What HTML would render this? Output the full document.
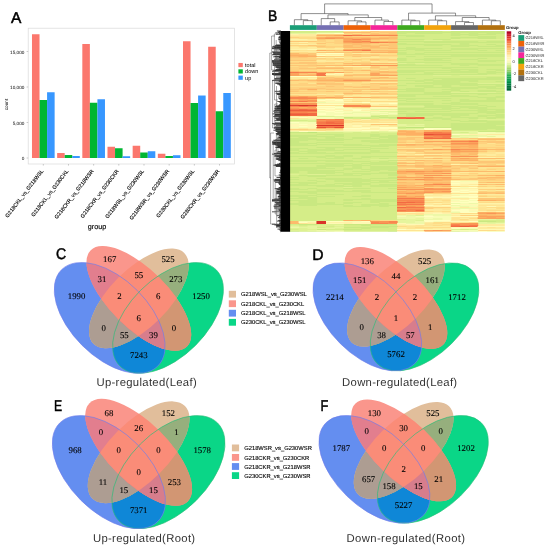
<!DOCTYPE html>
<html lang="en"><head><meta charset="utf-8"><title>Figure</title>
<style>html,body{margin:0;padding:0;background:#fff}svg{display:block}text{font-family:"Liberation Sans",sans-serif;text-rendering:geometricPrecision}.s{font-family:"Liberation Serif",serif}</style></head><body>
<svg width="548" height="550" viewBox="0 0 548 550">
<rect width="548" height="550" fill="#fff"/>
<g id="panelA">
<rect x="28.2" y="28.2" width="206.4" height="135.8" fill="#fff" stroke="#d9d9d9" stroke-width="0.7"/>
<rect x="31.98" y="34.25" width="7.55" height="123.75" fill="#FB776D"/>
<rect x="39.53" y="100.00" width="7.55" height="58.00" fill="#00B632"/>
<rect x="47.08" y="92.25" width="7.55" height="65.75" fill="#3797FF"/>
<line x1="43.30" y1="164.0" x2="43.30" y2="165.6" stroke="#999" stroke-width="0.5"/>
<text x="43.70" y="171.20" font-size="5.3" fill="#000" stroke="#000" stroke-width="0.1" text-anchor="end" transform="rotate(-52.5 43.70 171.20)">G218CKL_vs_G218WSL</text>
<rect x="57.15" y="153.03" width="7.55" height="4.97" fill="#FB776D"/>
<rect x="64.70" y="155.02" width="7.55" height="2.98" fill="#00B632"/>
<rect x="72.25" y="156.01" width="7.55" height="1.99" fill="#3797FF"/>
<line x1="68.47" y1="164.0" x2="68.47" y2="165.6" stroke="#999" stroke-width="0.5"/>
<text x="68.87" y="171.20" font-size="5.3" fill="#000" stroke="#000" stroke-width="0.1" text-anchor="end" transform="rotate(-52.5 68.87 171.20)">G218CKL_vs_G230CKL</text>
<rect x="82.32" y="44.00" width="7.55" height="114.00" fill="#FB776D"/>
<rect x="89.87" y="102.75" width="7.55" height="55.25" fill="#00B632"/>
<rect x="97.42" y="99.25" width="7.55" height="58.75" fill="#3797FF"/>
<line x1="93.64" y1="164.0" x2="93.64" y2="165.6" stroke="#999" stroke-width="0.5"/>
<text x="94.04" y="171.20" font-size="5.3" fill="#000" stroke="#000" stroke-width="0.1" text-anchor="end" transform="rotate(-52.5 94.04 171.20)">G218CKR_vs_G218WSR</text>
<rect x="107.49" y="146.75" width="7.55" height="11.25" fill="#FB776D"/>
<rect x="115.04" y="148.25" width="7.55" height="9.75" fill="#00B632"/>
<rect x="122.59" y="156.25" width="7.55" height="1.75" fill="#3797FF"/>
<line x1="118.81" y1="164.0" x2="118.81" y2="165.6" stroke="#999" stroke-width="0.5"/>
<text x="119.21" y="171.20" font-size="5.3" fill="#000" stroke="#000" stroke-width="0.1" text-anchor="end" transform="rotate(-52.5 119.21 171.20)">G218CKR_vs_G230CKR</text>
<rect x="132.66" y="145.75" width="7.55" height="12.25" fill="#FB776D"/>
<rect x="140.21" y="152.50" width="7.55" height="5.50" fill="#00B632"/>
<rect x="147.76" y="151.25" width="7.55" height="6.75" fill="#3797FF"/>
<line x1="143.99" y1="164.0" x2="143.99" y2="165.6" stroke="#999" stroke-width="0.5"/>
<text x="144.39" y="171.20" font-size="5.3" fill="#000" stroke="#000" stroke-width="0.1" text-anchor="end" transform="rotate(-52.5 144.39 171.20)">G218WSL_vs_G230WSL</text>
<rect x="157.83" y="153.74" width="7.55" height="4.26" fill="#FB776D"/>
<rect x="165.38" y="156.01" width="7.55" height="1.99" fill="#00B632"/>
<rect x="172.93" y="155.23" width="7.55" height="2.77" fill="#3797FF"/>
<line x1="169.16" y1="164.0" x2="169.16" y2="165.6" stroke="#999" stroke-width="0.5"/>
<text x="169.56" y="171.20" font-size="5.3" fill="#000" stroke="#000" stroke-width="0.1" text-anchor="end" transform="rotate(-52.5 169.56 171.20)">G218WSR_vs_G230WSR</text>
<rect x="183.00" y="41.25" width="7.55" height="116.75" fill="#FB776D"/>
<rect x="190.55" y="103.00" width="7.55" height="55.00" fill="#00B632"/>
<rect x="198.10" y="95.52" width="7.55" height="62.48" fill="#3797FF"/>
<line x1="194.33" y1="164.0" x2="194.33" y2="165.6" stroke="#999" stroke-width="0.5"/>
<text x="194.73" y="171.20" font-size="5.3" fill="#000" stroke="#000" stroke-width="0.1" text-anchor="end" transform="rotate(-52.5 194.73 171.20)">G230CKL_vs_G230WSL</text>
<rect x="208.17" y="46.75" width="7.55" height="111.25" fill="#FB776D"/>
<rect x="215.72" y="111.25" width="7.55" height="46.75" fill="#00B632"/>
<rect x="223.27" y="93.00" width="7.55" height="65.00" fill="#3797FF"/>
<line x1="219.50" y1="164.0" x2="219.50" y2="165.6" stroke="#999" stroke-width="0.5"/>
<text x="219.90" y="171.20" font-size="5.3" fill="#000" stroke="#000" stroke-width="0.1" text-anchor="end" transform="rotate(-52.5 219.90 171.20)">G230CKR_vs_G230WSR</text>
<line x1="26.599999999999998" y1="158.00" x2="28.2" y2="158.00" stroke="#999" stroke-width="0.5"/>
<text x="24.4" y="160.30" font-size="4.7" fill="#000" text-anchor="end">0</text>
<line x1="26.599999999999998" y1="122.50" x2="28.2" y2="122.50" stroke="#999" stroke-width="0.5"/>
<text x="24.4" y="124.80" font-size="4.7" fill="#000" text-anchor="end">5,000</text>
<line x1="26.599999999999998" y1="87.00" x2="28.2" y2="87.00" stroke="#999" stroke-width="0.5"/>
<text x="24.4" y="89.30" font-size="4.7" fill="#000" text-anchor="end">10,000</text>
<line x1="26.599999999999998" y1="51.50" x2="28.2" y2="51.50" stroke="#999" stroke-width="0.5"/>
<text x="24.4" y="53.80" font-size="4.7" fill="#000" text-anchor="end">15,000</text>
<text x="8.0" y="104.5" font-size="4.7" fill="#000" text-anchor="middle" transform="rotate(-90 8.0 104.5)">count</text>
<text x="97" y="229" font-size="7.2" fill="#000" stroke="#000" stroke-width="0.15" text-anchor="middle">group</text>
<rect x="238.4" y="62.95" width="4.4" height="4.2" fill="#FB776D"/>
<text x="245.1" y="66.85" font-size="5.5" fill="#000">total</text>
<rect x="238.4" y="69.30" width="4.4" height="4.2" fill="#00B632"/>
<text x="245.1" y="73.20" font-size="5.5" fill="#000">down</text>
<rect x="238.4" y="75.60" width="4.4" height="4.2" fill="#3797FF"/>
<text x="245.1" y="79.50" font-size="5.5" fill="#000">up</text>
</g>
<g id="panelB">
<defs><filter id="hb" x="-5%" y="-5%" width="110%" height="110%"><feGaussianBlur stdDeviation="0.7 0.4"/></filter><clipPath id="hc"><rect x="289.9" y="31.0" width="214.90" height="200.75"/></clipPath></defs>
<g clip-path="url(#hc)"><g filter="url(#hb)">
<rect x="285.9" y="27.0" width="222.90" height="208.75" fill="#CEEA84"/>
<g>
<path d="M289.60 31.5h54.33M441.82 31.5h9.55M289.60 32.5h27.46M406.00 33.5h9.55M441.82 33.5h9.55M459.73 33.5h9.55M477.64 33.5h9.55M397.05 34.5h54.33M495.55 34.5h9.55M423.91 35.5h27.46M459.73 35.5h9.55M477.64 35.5h27.46M397.05 36.5h9.55M423.91 36.5h54.33M495.55 36.5h9.55M397.05 37.5h54.33M495.55 37.5h9.55M397.05 38.5h54.33M459.73 38.5h18.51M495.55 38.5h9.55M423.91 39.5h9.55M397.05 40.5h27.46M441.82 40.5h63.28M477.64 41.5h9.55M397.05 42.5h27.46M406.00 43.5h54.33M468.68 43.5h36.42M450.77 44.5h9.55M468.68 44.5h18.51M495.55 44.5h9.55M397.05 45.5h27.46M441.82 45.5h9.55M477.64 45.5h18.51M397.05 46.5h54.33M468.68 46.5h9.55M397.05 47.5h9.55M414.96 47.5h90.14M441.82 48.5h9.55M397.05 49.5h9.55M423.91 49.5h27.46M477.64 49.5h27.46M406.00 50.5h9.55M450.77 50.5h27.46M486.59 50.5h9.55M397.05 51.5h108.05M406.00 52.5h18.51M406.00 53.5h9.55M423.91 53.5h81.19M397.05 55.5h54.33M397.05 56.5h9.55M414.96 56.5h9.55M397.05 57.5h108.05M406.00 58.5h18.51M450.77 58.5h27.46M486.59 58.5h18.51M406.00 59.5h9.55M441.82 59.5h18.51M477.64 59.5h27.46M406.00 60.5h18.51M450.77 60.5h27.46M397.05 61.5h81.19M495.55 61.5h9.55M450.77 62.5h54.33M406.00 63.5h9.55M423.91 63.5h27.46M477.64 63.5h27.46M414.96 64.5h36.42M441.82 65.5h18.51M468.68 65.5h9.55M397.05 66.5h108.05M477.64 67.5h27.46M397.05 68.5h45.37M450.77 68.5h54.33M397.05 69.5h54.33M477.64 69.5h9.55M459.73 70.5h9.55M477.64 70.5h18.51M423.91 71.5h27.46M477.64 71.5h9.55M495.55 71.5h9.55M414.96 72.5h9.55M477.64 72.5h9.55M397.05 73.5h27.46M432.87 73.5h45.37M495.55 73.5h9.55M486.59 74.5h18.51M397.05 75.5h36.42M450.77 75.5h9.55M397.05 76.5h108.05M397.05 77.5h90.14M397.05 78.5h9.55M414.96 78.5h18.51M397.05 79.5h27.46M432.87 79.5h9.55M477.64 80.5h27.46M397.05 81.5h18.51M423.91 81.5h9.55M459.73 81.5h9.55M477.64 81.5h18.51M397.05 82.5h27.46M459.73 82.5h45.37M397.05 83.5h9.55M397.05 84.5h36.42M406.00 85.5h9.55M432.87 85.5h9.55M450.77 85.5h9.55M477.64 85.5h18.51M397.05 86.5h18.51M432.87 86.5h9.55M450.77 86.5h27.46M397.05 87.5h27.46M495.55 87.5h9.55M397.05 88.5h9.55M423.91 88.5h27.46M477.64 88.5h9.55M423.91 89.5h18.51M459.73 89.5h45.37M397.05 90.5h9.55M423.91 90.5h27.46M459.73 90.5h18.51M495.55 90.5h9.55M423.91 91.5h18.51M450.77 91.5h9.55M468.68 91.5h9.55M397.05 92.5h27.46M495.55 92.5h9.55M397.05 93.5h27.46M450.77 94.5h27.46M486.59 94.5h18.51M414.96 95.5h36.42M468.68 95.5h36.42M414.96 96.5h18.51M477.64 96.5h18.51M397.05 97.5h81.19M450.77 98.5h36.42M495.55 98.5h9.55M397.05 99.5h9.55M414.96 99.5h45.37M468.68 99.5h18.51M495.55 99.5h9.55M406.00 100.5h36.42M450.77 100.5h9.55M397.05 101.5h9.55M432.87 101.5h27.46M397.05 102.5h54.33M459.73 102.5h45.37M432.87 103.5h9.55M477.64 103.5h27.46M432.87 104.5h18.51M477.64 104.5h27.46M397.05 105.5h27.46M450.77 105.5h27.46M486.59 105.5h18.51M477.64 106.5h9.55M495.55 106.5h9.55M397.05 107.5h27.46M450.77 107.5h9.55M486.59 107.5h18.51M423.91 108.5h18.51M459.73 108.5h9.55M486.59 108.5h18.51M450.77 109.5h27.46M397.05 110.5h54.33M486.59 110.5h9.55M406.00 111.5h9.55M450.77 111.5h27.46M397.05 112.5h81.19M477.64 113.5h9.55M495.55 113.5h9.55M397.05 114.5h9.55M468.68 114.5h27.46M379.14 115.5h9.55M397.05 115.5h9.55M432.87 115.5h9.55M468.68 115.5h9.55M379.14 116.5h9.55M397.05 116.5h9.55M414.96 116.5h36.42M459.73 116.5h18.51M486.59 116.5h9.55M352.28 117.5h27.46M423.91 117.5h9.55M441.82 117.5h9.55M477.64 117.5h9.55M343.32 118.5h18.51M370.19 118.5h9.55M388.10 118.5h9.55M450.77 118.5h18.51M477.64 118.5h9.55M495.55 118.5h9.55M397.05 119.5h45.37M450.77 119.5h27.46M289.60 120.5h18.51M397.05 120.5h27.46M432.87 120.5h18.51M459.73 120.5h9.55M486.59 120.5h18.51M397.05 121.5h63.28M397.05 122.5h90.14M397.05 123.5h54.33M423.91 124.5h27.46M423.91 125.5h27.46M495.55 125.5h9.55M423.91 126.5h27.46M397.05 128.5h9.55M486.59 129.5h9.55M450.77 130.5h54.33M316.46 132.5h27.46M352.28 132.5h9.55M370.19 132.5h9.55M459.73 132.5h9.55M289.60 133.5h108.05M289.60 134.5h27.46M343.32 134.5h27.46M379.14 134.5h18.51M316.46 135.5h18.51M343.32 135.5h27.46M379.14 135.5h9.55M343.32 136.5h27.46M289.60 137.5h9.55M307.51 137.5h18.51M334.37 137.5h18.51M370.19 137.5h9.55M316.46 138.5h9.55M343.32 138.5h9.55M379.14 138.5h9.55M352.28 139.5h27.46M307.51 140.5h9.55M343.32 140.5h18.51M298.55 141.5h63.28M298.55 142.5h18.51M343.32 142.5h27.46M316.46 143.5h81.19M307.51 144.5h9.55M361.23 144.5h18.51M316.46 145.5h27.46M289.60 146.5h81.19M388.10 146.5h9.55M289.60 147.5h27.46M370.19 147.5h27.46M307.51 148.5h18.51M334.37 148.5h36.42M388.10 148.5h9.55M298.55 149.5h9.55M334.37 149.5h9.55M370.19 149.5h27.46M298.55 150.5h9.55M343.32 150.5h27.46M379.14 150.5h18.51M289.60 151.5h9.55M316.46 151.5h54.33M379.14 151.5h18.51M298.55 152.5h9.55M325.42 152.5h9.55M370.19 153.5h27.46M289.60 154.5h108.05M289.60 155.5h36.42M334.37 155.5h9.55M352.28 155.5h45.37M352.28 156.5h9.55M289.60 157.5h27.46M325.42 157.5h9.55M343.32 157.5h18.51M370.19 157.5h27.46M289.60 158.5h9.55M307.51 158.5h18.51M343.32 158.5h9.55M361.23 158.5h18.51M388.10 158.5h9.55M289.60 159.5h81.19M352.28 160.5h36.42M316.46 161.5h9.55M370.19 161.5h9.55M388.10 161.5h9.55M289.60 162.5h81.19M352.28 163.5h9.55M289.60 164.5h36.42M343.32 164.5h9.55M361.23 164.5h9.55M289.60 165.5h27.46M370.19 165.5h27.46M289.60 166.5h27.46M343.32 166.5h9.55M361.23 166.5h9.55M325.42 167.5h27.46M361.23 167.5h9.55M334.37 168.5h9.55M361.23 168.5h9.55M316.46 169.5h27.46M352.28 169.5h9.55M343.32 170.5h27.46M379.14 170.5h9.55M298.55 171.5h9.55M334.37 171.5h18.51M370.19 171.5h27.46M298.55 172.5h9.55M343.32 172.5h36.42M289.60 173.5h18.51M334.37 173.5h9.55M298.55 174.5h9.55M325.42 174.5h18.51M352.28 174.5h9.55M370.19 174.5h18.51M289.60 175.5h9.55M361.23 175.5h27.46M289.60 176.5h18.51M325.42 176.5h72.23M298.55 177.5h90.14M289.60 178.5h27.46M361.23 178.5h9.55M298.55 179.5h27.46M370.19 179.5h27.46M289.60 180.5h18.51M316.46 180.5h18.51M289.60 181.5h27.46M325.42 181.5h9.55M370.19 181.5h9.55M388.10 181.5h9.55M316.46 182.5h36.42M361.23 182.5h9.55M289.60 183.5h9.55M316.46 183.5h18.51M370.19 183.5h27.46M307.51 184.5h18.51M334.37 184.5h9.55M370.19 184.5h9.55M343.32 185.5h9.55M361.23 185.5h9.55M289.60 186.5h27.46M361.23 186.5h9.55M289.60 187.5h54.33M352.28 187.5h45.37M298.55 188.5h9.55M316.46 188.5h27.46M370.19 188.5h18.51M307.51 189.5h9.55M334.37 189.5h63.28M289.60 190.5h27.46M343.32 190.5h9.55M370.19 190.5h27.46M370.19 191.5h27.46M289.60 192.5h9.55M316.46 192.5h45.37M289.60 193.5h18.51M316.46 193.5h81.19M289.60 194.5h27.46M343.32 194.5h54.33M316.46 195.5h45.37M370.19 195.5h27.46M307.51 196.5h9.55M334.37 196.5h18.51M370.19 196.5h27.46M289.60 197.5h9.55M316.46 197.5h81.19M316.46 198.5h45.37M370.19 198.5h27.46M289.60 199.5h18.51M316.46 199.5h27.46M316.46 200.5h27.46M352.28 200.5h18.51M289.60 201.5h9.55M316.46 201.5h54.33M289.60 202.5h9.55M316.46 202.5h9.55M334.37 202.5h9.55M361.23 202.5h9.55M379.14 202.5h18.51M334.37 203.5h9.55M352.28 203.5h27.46M388.10 203.5h9.55M343.32 204.5h18.51M388.10 204.5h9.55M289.60 205.5h9.55M316.46 205.5h27.46M352.28 205.5h9.55M289.60 206.5h54.33M370.19 206.5h9.55M388.10 206.5h9.55M289.60 207.5h108.05M289.60 208.5h108.05M289.60 209.5h108.05M289.60 210.5h108.05M289.60 211.5h108.05M289.60 212.5h108.05M289.60 213.5h108.05M289.60 214.5h108.05M289.60 215.5h108.05M289.60 216.5h108.05M289.60 217.5h108.05M289.60 218.5h108.05M289.60 219.5h108.05M289.60 220.5h54.33M477.64 220.5h27.46M495.55 221.5h9.55M289.60 224.5h9.55M316.46 224.5h9.55M298.55 225.5h9.55M343.32 225.5h18.51M370.19 225.5h27.46M325.42 226.5h9.55M343.32 226.5h27.46M316.46 227.5h9.55M388.10 227.5h9.55M343.32 228.5h18.51M370.19 228.5h27.46M289.60 229.5h9.55M325.42 229.5h18.51M361.23 229.5h36.42M459.73 229.5h9.55M343.32 230.5h54.33M298.55 231.5h18.51M343.32 231.5h45.37" stroke="#D5ED88" stroke-width="1" fill="none"/>
<path d="M343.32 31.5h18.51M289.60 36.5h27.46M289.60 38.5h9.55M307.51 42.5h9.55M307.51 43.5h9.55M289.60 46.5h9.55M298.55 47.5h9.55M325.42 48.5h9.55M316.46 49.5h27.46M298.55 50.5h18.51M325.42 51.5h9.55M307.51 52.5h9.55M370.19 53.5h18.51M370.19 56.5h9.55M343.32 57.5h18.51M379.14 57.5h18.51M343.32 58.5h18.51M388.10 58.5h9.55M325.42 60.5h27.46M361.23 60.5h9.55M352.28 61.5h9.55M379.14 61.5h18.51M370.19 62.5h18.51M334.37 66.5h9.55M361.23 68.5h9.55M325.42 70.5h9.55M379.14 70.5h9.55M334.37 71.5h9.55M343.32 73.5h27.46M325.42 75.5h9.55M316.46 76.5h9.55M379.14 76.5h18.51M361.23 82.5h9.55M307.51 83.5h9.55M343.32 83.5h9.55M361.23 90.5h27.46M370.19 92.5h9.55M289.60 94.5h27.46M325.42 94.5h9.55M343.32 95.5h9.55M352.28 96.5h9.55M343.32 101.5h9.55M361.23 101.5h9.55M361.23 103.5h9.55M316.46 105.5h27.46M343.32 107.5h9.55M289.60 118.5h9.55M352.28 119.5h9.55M379.14 119.5h18.51M343.32 120.5h9.55M361.23 120.5h36.42M343.32 121.5h9.55M361.23 121.5h18.51M343.32 122.5h9.55M361.23 122.5h36.42M388.10 125.5h9.55M298.55 130.5h18.51M325.42 130.5h9.55M406.00 143.5h9.55M486.59 143.5h9.55M397.05 148.5h18.51M423.91 148.5h9.55M397.05 152.5h9.55M486.59 152.5h9.55M477.64 153.5h18.51M406.00 154.5h9.55M441.82 154.5h9.55M495.55 154.5h9.55M477.64 155.5h9.55M495.55 155.5h9.55M406.00 157.5h9.55M432.87 157.5h18.51M397.05 159.5h9.55M414.96 159.5h36.42M477.64 159.5h18.51M397.05 161.5h18.51M406.00 164.5h9.55M495.55 164.5h9.55M477.64 167.5h27.46M406.00 168.5h18.51M477.64 168.5h9.55M486.59 170.5h18.51M450.77 172.5h9.55M468.68 172.5h36.42M450.77 173.5h9.55M477.64 173.5h9.55M450.77 174.5h18.51M450.77 176.5h9.55M477.64 183.5h27.46M477.64 185.5h27.46M459.73 186.5h18.51M486.59 190.5h9.55M450.77 193.5h27.46M486.59 195.5h18.51M495.55 197.5h9.55M432.87 198.5h9.55M423.91 199.5h27.46M432.87 200.5h9.55M441.82 201.5h9.55M477.64 201.5h27.46M441.82 202.5h9.55M432.87 204.5h9.55M477.64 205.5h27.46M477.64 207.5h9.55M432.87 208.5h18.51M477.64 208.5h9.55M441.82 209.5h9.55M477.64 209.5h27.46M477.64 210.5h9.55M432.87 211.5h9.55M406.00 213.5h18.51M450.77 213.5h9.55M397.05 214.5h9.55M414.96 214.5h9.55M450.77 217.5h27.46M450.77 218.5h9.55M450.77 219.5h9.55M459.73 220.5h9.55M450.77 222.5h18.51M298.55 223.5h9.55M423.91 223.5h9.55M441.82 223.5h9.55M423.91 224.5h18.51M414.96 225.5h18.51M441.82 225.5h9.55M406.00 226.5h18.51M406.00 227.5h9.55M486.59 227.5h9.55M406.00 228.5h27.46M397.05 230.5h27.46M495.55 230.5h9.55" stroke="#FEE492" stroke-width="1" fill="none"/>
<path d="M361.23 31.5h9.55M352.28 33.5h9.55M298.55 37.5h18.51M298.55 38.5h18.51M325.42 40.5h9.55M379.14 40.5h9.55M325.42 41.5h9.55M316.46 42.5h9.55M289.60 43.5h18.51M325.42 43.5h9.55M316.46 44.5h27.46M325.42 45.5h18.51M298.55 46.5h18.51M334.37 47.5h9.55M289.60 50.5h9.55M334.37 51.5h18.51M289.60 52.5h18.51M343.32 53.5h9.55M388.10 53.5h9.55M379.14 54.5h18.51M343.32 56.5h9.55M379.14 56.5h18.51M325.42 58.5h9.55M361.23 58.5h27.46M316.46 59.5h18.51M343.32 59.5h9.55M361.23 59.5h9.55M352.28 60.5h9.55M379.14 60.5h9.55M289.60 61.5h27.46M343.32 61.5h9.55M361.23 61.5h9.55M316.46 62.5h9.55M343.32 62.5h9.55M334.37 63.5h9.55M289.60 64.5h18.51M316.46 64.5h27.46M352.28 64.5h9.55M370.19 64.5h27.46M289.60 66.5h9.55M316.46 66.5h9.55M379.14 66.5h9.55M307.51 67.5h9.55M352.28 67.5h18.51M379.14 67.5h9.55M352.28 68.5h9.55M316.46 69.5h27.46M352.28 69.5h27.46M388.10 69.5h9.55M298.55 70.5h27.46M388.10 70.5h9.55M316.46 71.5h18.51M343.32 71.5h27.46M352.28 72.5h18.51M325.42 76.5h18.51M352.28 76.5h27.46M289.60 79.5h9.55M307.51 79.5h9.55M370.19 79.5h27.46M289.60 81.5h18.51M289.60 82.5h27.46M334.37 82.5h27.46M289.60 83.5h9.55M352.28 83.5h18.51M343.32 84.5h18.51M316.46 85.5h9.55M343.32 85.5h27.46M379.14 85.5h18.51M289.60 86.5h27.46M343.32 88.5h27.46M298.55 90.5h9.55M316.46 90.5h36.42M289.60 92.5h54.33M352.28 92.5h18.51M379.14 92.5h18.51M316.46 93.5h27.46M352.28 94.5h18.51M298.55 95.5h18.51M325.42 95.5h9.55M370.19 96.5h27.46M370.19 98.5h27.46M352.28 101.5h9.55M370.19 101.5h27.46M343.32 103.5h18.51M352.28 107.5h9.55M370.19 119.5h9.55M352.28 121.5h9.55M307.51 129.5h18.51M334.37 129.5h9.55M316.46 130.5h9.55M397.05 136.5h27.46M450.77 139.5h27.46M406.00 140.5h9.55M477.64 140.5h9.55M495.55 140.5h9.55M406.00 141.5h9.55M397.05 143.5h9.55M414.96 143.5h9.55M477.64 144.5h27.46M477.64 145.5h18.51M397.05 146.5h9.55M477.64 146.5h27.46M432.87 147.5h9.55M432.87 148.5h18.51M486.59 148.5h9.55M486.59 150.5h9.55M397.05 151.5h9.55M423.91 151.5h27.46M486.59 151.5h9.55M414.96 152.5h9.55M477.64 152.5h9.55M397.05 153.5h18.51M397.05 155.5h27.46M477.64 156.5h27.46M397.05 157.5h9.55M414.96 157.5h9.55M406.00 159.5h9.55M441.82 160.5h9.55M477.64 160.5h18.51M414.96 161.5h9.55M441.82 161.5h27.46M406.00 162.5h9.55M397.05 164.5h9.55M423.91 164.5h18.51M477.64 164.5h9.55M397.05 168.5h9.55M459.73 168.5h9.55M486.59 168.5h18.51M459.73 169.5h27.46M495.55 169.5h9.55M459.73 170.5h9.55M477.64 170.5h9.55M459.73 173.5h9.55M486.59 173.5h18.51M468.68 174.5h36.42M459.73 176.5h36.42M459.73 177.5h18.51M477.64 181.5h27.46M450.77 186.5h9.55M486.59 186.5h9.55M486.59 191.5h9.55M477.64 195.5h9.55M486.59 196.5h18.51M423.91 200.5h9.55M441.82 200.5h9.55M423.91 202.5h18.51M477.64 202.5h27.46M441.82 204.5h9.55M486.59 207.5h18.51M495.55 208.5h9.55M486.59 210.5h18.51M423.91 211.5h9.55M441.82 211.5h9.55M459.73 213.5h18.51M468.68 218.5h9.55M459.73 219.5h9.55M379.14 220.5h18.51M432.87 222.5h18.51M468.68 222.5h9.55M432.87 223.5h9.55M441.82 224.5h9.55M432.87 225.5h9.55M397.05 226.5h9.55M414.96 227.5h36.42M477.64 230.5h18.51" stroke="#FEDC87" stroke-width="1" fill="none"/>
<path d="M370.19 31.5h9.55M379.14 32.5h18.51M370.19 33.5h9.55M388.10 33.5h9.55M325.42 36.5h27.46M388.10 36.5h9.55M370.19 37.5h9.55M316.46 39.5h9.55M379.14 39.5h18.51M289.60 41.5h27.46M316.46 43.5h9.55M370.19 43.5h9.55M388.10 43.5h9.55M343.32 44.5h9.55M361.23 44.5h9.55M379.14 44.5h18.51M307.51 45.5h9.55M352.28 45.5h9.55M370.19 45.5h9.55M388.10 45.5h9.55M316.46 46.5h9.55M352.28 46.5h9.55M388.10 46.5h9.55M361.23 47.5h9.55M379.14 47.5h18.51M361.23 48.5h27.46M334.37 50.5h9.55M370.19 51.5h18.51M316.46 52.5h36.42M361.23 52.5h9.55M307.51 53.5h9.55M307.51 54.5h9.55M352.28 54.5h9.55M370.19 55.5h9.55M316.46 56.5h9.55M352.28 56.5h9.55M289.60 57.5h18.51M370.19 59.5h9.55M289.60 60.5h27.46M298.55 62.5h18.51M289.60 63.5h27.46M352.28 63.5h18.51M361.23 64.5h9.55M289.60 65.5h27.46M316.46 67.5h27.46M370.19 67.5h9.55M298.55 68.5h18.51M343.32 70.5h18.51M298.55 71.5h18.51M370.19 71.5h9.55M388.10 71.5h9.55M343.32 72.5h9.55M307.51 73.5h9.55M298.55 74.5h9.55M352.28 74.5h18.51M388.10 74.5h9.55M352.28 75.5h18.51M316.46 77.5h18.51M370.19 77.5h9.55M325.42 78.5h9.55M343.32 78.5h27.46M379.14 78.5h18.51M298.55 80.5h9.55M316.46 81.5h18.51M361.23 81.5h9.55M325.42 83.5h18.51M370.19 83.5h27.46M316.46 84.5h27.46M379.14 84.5h9.55M325.42 86.5h9.55M343.32 86.5h9.55M361.23 86.5h9.55M352.28 87.5h18.51M379.14 87.5h9.55M298.55 88.5h27.46M379.14 88.5h18.51M289.60 89.5h18.51M325.42 89.5h45.37M379.14 89.5h18.51M289.60 91.5h9.55M325.42 91.5h9.55M352.28 91.5h9.55M370.19 91.5h9.55M361.23 93.5h27.46M334.37 96.5h9.55M379.14 97.5h18.51M316.46 98.5h9.55M334.37 98.5h9.55M289.60 102.5h27.46M361.23 104.5h9.55M370.19 106.5h27.46M370.19 124.5h27.46M325.42 128.5h9.55M406.00 130.5h18.51M414.96 131.5h9.55M397.05 135.5h9.55M406.00 137.5h18.51M397.05 138.5h18.51M468.68 138.5h36.42M397.05 139.5h18.51M423.91 139.5h9.55M477.64 141.5h27.46M397.05 142.5h9.55M414.96 142.5h18.51M441.82 142.5h9.55M486.59 142.5h18.51M414.96 145.5h9.55M432.87 145.5h9.55M397.05 149.5h27.46M406.00 150.5h18.51M414.96 151.5h9.55M477.64 151.5h9.55M423.91 152.5h27.46M423.91 153.5h18.51M459.73 153.5h9.55M459.73 154.5h9.55M423.91 155.5h18.51M450.77 155.5h9.55M468.68 155.5h9.55M406.00 156.5h18.51M450.77 157.5h9.55M423.91 158.5h9.55M397.05 160.5h18.51M423.91 160.5h18.51M477.64 161.5h27.46M397.05 162.5h9.55M414.96 162.5h9.55M432.87 162.5h9.55M477.64 162.5h27.46M414.96 163.5h9.55M441.82 163.5h9.55M459.73 163.5h9.55M406.00 165.5h9.55M423.91 165.5h9.55M441.82 165.5h63.28M397.05 166.5h18.51M459.73 166.5h9.55M414.96 167.5h18.51M441.82 167.5h9.55M423.91 168.5h18.51M450.77 168.5h9.55M468.68 168.5h9.55M397.05 169.5h9.55M414.96 169.5h9.55M441.82 172.5h9.55M397.05 174.5h18.51M423.91 174.5h18.51M397.05 175.5h9.55M414.96 175.5h9.55M450.77 175.5h18.51M414.96 176.5h18.51M477.64 177.5h9.55M397.05 178.5h27.46M468.68 178.5h9.55M486.59 178.5h18.51M459.73 179.5h18.51M486.59 179.5h9.55M397.05 180.5h27.46M423.91 181.5h27.46M406.00 182.5h18.51M477.64 182.5h9.55M397.05 183.5h18.51M423.91 183.5h9.55M397.05 184.5h18.51M486.59 184.5h9.55M414.96 186.5h9.55M495.55 189.5h9.55M397.05 190.5h9.55M414.96 190.5h9.55M477.64 192.5h27.46M486.59 193.5h9.55M397.05 194.5h9.55M477.64 198.5h27.46M477.64 199.5h27.46M495.55 214.5h9.55M432.87 231.5h18.51" stroke="#FDC675" stroke-width="1" fill="none"/>
<path d="M379.14 31.5h18.51M370.19 32.5h9.55M343.32 33.5h9.55M361.23 33.5h9.55M379.14 33.5h9.55M316.46 34.5h36.42M361.23 34.5h9.55M316.46 36.5h9.55M352.28 36.5h36.42M289.60 37.5h9.55M325.42 39.5h18.51M316.46 40.5h9.55M334.37 40.5h9.55M370.19 40.5h9.55M388.10 40.5h9.55M316.46 41.5h9.55M334.37 41.5h9.55M325.42 42.5h18.51M334.37 43.5h9.55M379.14 43.5h9.55M370.19 44.5h9.55M289.60 45.5h18.51M316.46 45.5h9.55M325.42 46.5h18.51M379.14 46.5h9.55M316.46 47.5h18.51M343.32 48.5h18.51M370.19 49.5h27.46M352.28 51.5h18.51M298.55 53.5h9.55M343.32 54.5h9.55M361.23 54.5h18.51M343.32 55.5h27.46M379.14 55.5h18.51M325.42 56.5h18.51M361.23 56.5h9.55M307.51 57.5h9.55M289.60 58.5h36.42M334.37 58.5h9.55M289.60 59.5h27.46M334.37 59.5h9.55M352.28 59.5h9.55M379.14 59.5h18.51M370.19 60.5h9.55M388.10 60.5h9.55M289.60 62.5h9.55M325.42 62.5h18.51M352.28 62.5h18.51M316.46 63.5h18.51M307.51 64.5h9.55M343.32 64.5h9.55M298.55 66.5h18.51M370.19 66.5h9.55M388.10 66.5h9.55M289.60 67.5h18.51M343.32 67.5h9.55M388.10 67.5h9.55M289.60 68.5h9.55M343.32 68.5h9.55M370.19 68.5h27.46M289.60 69.5h27.46M343.32 69.5h9.55M379.14 69.5h9.55M289.60 70.5h9.55M334.37 70.5h9.55M370.19 70.5h9.55M379.14 73.5h18.51M343.32 74.5h9.55M343.32 76.5h9.55M334.37 77.5h36.42M388.10 77.5h9.55M298.55 79.5h9.55M307.51 81.5h9.55M370.19 81.5h27.46M316.46 82.5h18.51M298.55 83.5h9.55M289.60 84.5h27.46M361.23 84.5h18.51M388.10 84.5h9.55M289.60 85.5h27.46M325.42 85.5h18.51M370.19 85.5h9.55M316.46 86.5h9.55M334.37 86.5h9.55M352.28 86.5h9.55M370.19 86.5h27.46M289.60 87.5h63.28M370.19 87.5h9.55M388.10 87.5h9.55M289.60 88.5h9.55M325.42 88.5h18.51M370.19 88.5h9.55M316.46 89.5h9.55M289.60 90.5h9.55M307.51 90.5h9.55M352.28 90.5h9.55M298.55 91.5h27.46M334.37 91.5h18.51M361.23 91.5h9.55M379.14 91.5h18.51M343.32 92.5h9.55M289.60 93.5h27.46M388.10 93.5h9.55M343.32 94.5h9.55M370.19 94.5h27.46M289.60 95.5h9.55M316.46 95.5h9.55M334.37 95.5h9.55M316.46 96.5h18.51M325.42 98.5h9.55M343.32 104.5h18.51M361.23 107.5h9.55M289.60 129.5h18.51M325.42 129.5h9.55M397.05 137.5h9.55M414.96 138.5h9.55M450.77 138.5h18.51M414.96 139.5h9.55M432.87 139.5h18.51M397.05 140.5h9.55M414.96 140.5h36.42M486.59 140.5h9.55M397.05 141.5h9.55M414.96 141.5h9.55M406.00 142.5h9.55M432.87 142.5h9.55M477.64 142.5h9.55M423.91 143.5h27.46M477.64 143.5h9.55M495.55 143.5h9.55M423.91 145.5h9.55M441.82 145.5h9.55M495.55 145.5h9.55M406.00 146.5h36.42M397.05 147.5h36.42M441.82 147.5h9.55M477.64 147.5h27.46M477.64 148.5h9.55M495.55 148.5h9.55M397.05 150.5h9.55M423.91 150.5h27.46M477.64 150.5h9.55M495.55 150.5h9.55M406.00 151.5h9.55M495.55 151.5h9.55M414.96 153.5h9.55M441.82 153.5h9.55M441.82 155.5h9.55M423.91 156.5h27.46M459.73 157.5h18.51M397.05 158.5h27.46M441.82 158.5h9.55M495.55 160.5h9.55M423.91 161.5h18.51M468.68 161.5h9.55M423.91 162.5h9.55M441.82 162.5h36.42M423.91 163.5h18.51M450.77 163.5h9.55M477.64 163.5h27.46M414.96 164.5h9.55M441.82 164.5h9.55M486.59 164.5h9.55M450.77 166.5h9.55M468.68 166.5h9.55M397.05 167.5h18.51M450.77 167.5h27.46M441.82 168.5h9.55M450.77 169.5h9.55M486.59 169.5h9.55M450.77 170.5h9.55M468.68 170.5h9.55M468.68 173.5h9.55M441.82 174.5h9.55M406.00 175.5h9.55M468.68 175.5h9.55M406.00 176.5h9.55M432.87 176.5h18.51M495.55 176.5h9.55M450.77 177.5h9.55M450.77 178.5h18.51M477.64 179.5h9.55M495.55 179.5h9.55M477.64 180.5h27.46M397.05 181.5h27.46M414.96 183.5h9.55M414.96 184.5h9.55M477.64 186.5h9.55M495.55 186.5h9.55M423.91 187.5h27.46M477.64 189.5h18.51M477.64 191.5h9.55M495.55 191.5h9.55M423.91 193.5h27.46M477.64 196.5h9.55M423.91 207.5h27.46M423.91 208.5h9.55M459.73 215.5h18.51M370.19 220.5h9.55" stroke="#FED17E" stroke-width="1" fill="none"/>
<path d="M397.05 31.5h45.37M450.77 31.5h54.33M397.05 32.5h108.05M397.05 33.5h9.55M414.96 33.5h27.46M450.77 33.5h9.55M468.68 33.5h9.55M486.59 33.5h18.51M450.77 34.5h45.37M397.05 35.5h27.46M450.77 35.5h9.55M468.68 35.5h9.55M406.00 36.5h18.51M477.64 36.5h18.51M450.77 37.5h45.37M450.77 38.5h9.55M477.64 38.5h18.51M397.05 39.5h27.46M432.87 39.5h18.51M397.05 41.5h81.19M486.59 41.5h18.51M423.91 42.5h81.19M397.05 43.5h9.55M459.73 43.5h9.55M397.05 44.5h54.33M459.73 44.5h9.55M486.59 44.5h9.55M423.91 45.5h18.51M450.77 45.5h27.46M495.55 45.5h9.55M450.77 46.5h18.51M477.64 46.5h27.46M406.00 47.5h9.55M397.05 48.5h45.37M450.77 48.5h54.33M406.00 49.5h18.51M450.77 49.5h27.46M397.05 50.5h9.55M414.96 50.5h36.42M477.64 50.5h9.55M495.55 50.5h9.55M397.05 52.5h9.55M423.91 52.5h81.19M397.05 53.5h9.55M414.96 53.5h9.55M397.05 54.5h108.05M450.77 55.5h54.33M406.00 56.5h9.55M423.91 56.5h81.19M397.05 58.5h9.55M423.91 58.5h27.46M477.64 58.5h9.55M397.05 59.5h9.55M414.96 59.5h27.46M459.73 59.5h18.51M397.05 60.5h9.55M423.91 60.5h27.46M477.64 60.5h27.46M477.64 61.5h18.51M397.05 62.5h54.33M450.77 63.5h27.46M397.05 64.5h18.51M450.77 64.5h54.33M397.05 65.5h45.37M459.73 65.5h9.55M477.64 65.5h27.46M397.05 67.5h81.19M441.82 68.5h9.55M450.77 69.5h27.46M486.59 69.5h18.51M397.05 70.5h63.28M468.68 70.5h9.55M495.55 70.5h9.55M397.05 71.5h27.46M450.77 71.5h27.46M486.59 71.5h9.55M397.05 72.5h18.51M423.91 72.5h54.33M486.59 72.5h18.51M423.91 73.5h9.55M477.64 73.5h18.51M397.05 74.5h90.14M486.59 77.5h18.51M406.00 78.5h9.55M432.87 78.5h72.23M423.91 79.5h9.55M441.82 79.5h63.28M397.05 80.5h81.19M414.96 81.5h9.55M432.87 81.5h27.46M468.68 81.5h9.55M495.55 81.5h9.55M423.91 82.5h36.42M406.00 83.5h72.23M432.87 84.5h72.23M397.05 85.5h9.55M414.96 85.5h18.51M441.82 85.5h9.55M459.73 85.5h18.51M495.55 85.5h9.55M414.96 86.5h18.51M441.82 86.5h9.55M477.64 86.5h27.46M423.91 87.5h72.23M406.00 88.5h18.51M450.77 88.5h27.46M486.59 88.5h18.51M397.05 89.5h27.46M441.82 89.5h18.51M406.00 90.5h18.51M450.77 90.5h9.55M477.64 90.5h18.51M397.05 91.5h27.46M441.82 91.5h9.55M459.73 91.5h9.55M477.64 91.5h27.46M423.91 92.5h27.46M423.91 93.5h81.19M397.05 94.5h54.33M477.64 94.5h9.55M397.05 95.5h18.51M450.77 95.5h18.51M397.05 96.5h18.51M432.87 96.5h45.37M495.55 96.5h9.55M477.64 97.5h27.46M397.05 98.5h54.33M486.59 98.5h9.55M406.00 99.5h9.55M459.73 99.5h9.55M486.59 99.5h9.55M397.05 100.5h9.55M441.82 100.5h9.55M459.73 100.5h45.37M406.00 101.5h27.46M459.73 101.5h45.37M450.77 102.5h9.55M397.05 103.5h36.42M441.82 103.5h36.42M397.05 104.5h36.42M450.77 104.5h27.46M423.91 105.5h27.46M477.64 105.5h9.55M423.91 106.5h54.33M486.59 106.5h9.55M423.91 107.5h27.46M459.73 107.5h27.46M397.05 108.5h27.46M441.82 108.5h18.51M468.68 108.5h18.51M397.05 109.5h54.33M477.64 109.5h27.46M450.77 110.5h36.42M495.55 110.5h9.55M397.05 111.5h9.55M414.96 111.5h36.42M477.64 111.5h27.46M477.64 112.5h27.46M397.05 113.5h81.19M486.59 113.5h9.55M406.00 114.5h63.28M495.55 114.5h9.55M406.00 115.5h27.46M441.82 115.5h27.46M477.64 115.5h27.46M370.19 116.5h9.55M406.00 116.5h9.55M450.77 116.5h9.55M477.64 116.5h9.55M495.55 116.5h9.55M343.32 117.5h9.55M379.14 117.5h18.51M432.87 117.5h9.55M450.77 117.5h27.46M486.59 117.5h18.51M361.23 118.5h9.55M423.91 118.5h27.46M468.68 118.5h9.55M486.59 118.5h9.55M441.82 119.5h9.55M423.91 120.5h9.55M450.77 120.5h9.55M468.68 120.5h18.51M459.73 121.5h45.37M486.59 122.5h18.51M450.77 123.5h54.33M450.77 124.5h54.33M450.77 125.5h45.37M450.77 126.5h54.33M397.05 127.5h9.55M423.91 127.5h81.19M450.77 128.5h54.33M450.77 129.5h36.42M495.55 129.5h9.55M477.64 131.5h27.46M289.60 132.5h18.51M316.46 134.5h27.46M370.19 134.5h9.55M289.60 135.5h27.46M334.37 135.5h9.55M370.19 135.5h9.55M388.10 135.5h9.55M289.60 136.5h54.33M370.19 136.5h27.46M298.55 137.5h9.55M325.42 137.5h9.55M352.28 137.5h18.51M379.14 137.5h18.51M289.60 138.5h27.46M325.42 138.5h18.51M352.28 138.5h27.46M388.10 138.5h9.55M289.60 139.5h63.28M379.14 139.5h18.51M289.60 140.5h18.51M316.46 140.5h27.46M361.23 140.5h36.42M289.60 141.5h9.55M361.23 141.5h36.42M289.60 142.5h9.55M316.46 142.5h27.46M370.19 142.5h27.46M289.60 143.5h27.46M289.60 144.5h18.51M316.46 144.5h45.37M379.14 144.5h18.51M289.60 145.5h27.46M343.32 145.5h54.33M370.19 146.5h18.51M316.46 147.5h54.33M289.60 148.5h18.51M325.42 148.5h9.55M370.19 148.5h18.51M289.60 149.5h9.55M307.51 149.5h27.46M343.32 149.5h27.46M289.60 150.5h9.55M307.51 150.5h36.42M370.19 150.5h9.55M298.55 151.5h18.51M370.19 151.5h9.55M289.60 152.5h9.55M307.51 152.5h18.51M334.37 152.5h63.28M289.60 153.5h81.19M325.42 155.5h9.55M343.32 155.5h9.55M289.60 156.5h63.28M361.23 156.5h36.42M316.46 157.5h9.55M334.37 157.5h9.55M361.23 157.5h9.55M298.55 158.5h9.55M325.42 158.5h18.51M352.28 158.5h9.55M379.14 158.5h9.55M289.60 160.5h63.28M388.10 160.5h9.55M289.60 161.5h27.46M325.42 161.5h45.37M379.14 161.5h9.55M370.19 162.5h27.46M289.60 163.5h63.28M361.23 163.5h36.42M325.42 164.5h18.51M352.28 164.5h9.55M370.19 164.5h27.46M316.46 165.5h54.33M316.46 166.5h27.46M352.28 166.5h9.55M370.19 166.5h27.46M289.60 167.5h36.42M352.28 167.5h9.55M370.19 167.5h27.46M289.60 168.5h45.37M343.32 168.5h18.51M370.19 168.5h27.46M289.60 169.5h27.46M343.32 169.5h9.55M361.23 169.5h36.42M289.60 170.5h54.33M370.19 170.5h9.55M388.10 170.5h9.55M289.60 171.5h9.55M307.51 171.5h27.46M352.28 171.5h18.51M289.60 172.5h9.55M307.51 172.5h36.42M379.14 172.5h18.51M307.51 173.5h27.46M343.32 173.5h54.33M343.32 174.5h9.55M361.23 174.5h9.55M388.10 174.5h9.55M298.55 175.5h63.28M388.10 175.5h9.55M307.51 176.5h18.51M289.60 177.5h9.55M388.10 177.5h9.55M316.46 178.5h45.37M370.19 178.5h27.46M289.60 179.5h9.55M325.42 179.5h45.37M307.51 180.5h9.55M334.37 180.5h63.28M316.46 181.5h9.55M334.37 181.5h36.42M379.14 181.5h9.55M289.60 182.5h27.46M352.28 182.5h9.55M370.19 182.5h27.46M298.55 183.5h18.51M334.37 183.5h36.42M289.60 184.5h18.51M325.42 184.5h9.55M343.32 184.5h27.46M379.14 184.5h18.51M289.60 185.5h54.33M352.28 185.5h9.55M370.19 185.5h27.46M316.46 186.5h45.37M370.19 186.5h27.46M289.60 188.5h9.55M307.51 188.5h9.55M343.32 188.5h27.46M388.10 188.5h9.55M289.60 189.5h18.51M316.46 189.5h18.51M316.46 190.5h27.46M352.28 190.5h18.51M289.60 191.5h81.19M298.55 192.5h18.51M361.23 192.5h36.42M307.51 193.5h9.55M316.46 194.5h27.46M289.60 195.5h27.46M361.23 195.5h9.55M289.60 196.5h18.51M316.46 196.5h18.51M352.28 196.5h18.51M298.55 197.5h18.51M289.60 198.5h27.46M361.23 198.5h9.55M307.51 199.5h9.55M343.32 199.5h54.33M289.60 200.5h27.46M343.32 200.5h9.55M370.19 200.5h27.46M298.55 201.5h18.51M370.19 201.5h27.46M298.55 202.5h18.51M325.42 202.5h9.55M343.32 202.5h18.51M370.19 202.5h9.55M289.60 203.5h45.37M343.32 203.5h9.55M379.14 203.5h9.55M289.60 204.5h54.33M361.23 204.5h27.46M298.55 205.5h18.51M343.32 205.5h9.55M361.23 205.5h36.42M343.32 206.5h27.46M379.14 206.5h9.55M477.64 221.5h18.51M298.55 224.5h18.51M343.32 224.5h54.33M361.23 225.5h9.55M370.19 226.5h27.46M343.32 227.5h45.37M361.23 228.5h9.55M316.46 229.5h9.55M343.32 229.5h18.51M289.60 231.5h9.55M388.10 231.5h9.55" stroke="#C9E881" stroke-width="1" fill="none"/>
<path d="M316.46 32.5h27.46M450.77 39.5h54.33M423.91 40.5h18.51M397.05 63.5h9.55M414.96 63.5h9.55M432.87 75.5h18.51M459.73 75.5h45.37M477.64 83.5h27.46M450.77 92.5h45.37M397.05 106.5h27.46M370.19 115.5h9.55M388.10 115.5h9.55M316.46 116.5h18.51M388.10 116.5h9.55M379.14 118.5h9.55M477.64 119.5h27.46M307.51 120.5h9.55M307.51 121.5h9.55M406.00 124.5h9.55M406.00 125.5h18.51M397.05 126.5h9.55M406.00 128.5h18.51M343.32 132.5h9.55M361.23 132.5h9.55M379.14 132.5h18.51M450.77 132.5h9.55M370.19 159.5h27.46M289.60 174.5h9.55M307.51 174.5h18.51M343.32 187.5h9.55M414.96 215.5h9.55M397.05 219.5h9.55M495.55 219.5h9.55M414.96 220.5h9.55M486.59 222.5h18.51M325.42 224.5h18.51M289.60 225.5h9.55M307.51 225.5h27.46M298.55 226.5h9.55M316.46 226.5h9.55M334.37 226.5h9.55M325.42 227.5h9.55M289.60 228.5h18.51M334.37 228.5h9.55M298.55 229.5h18.51M450.77 229.5h9.55M468.68 229.5h9.55M289.60 230.5h18.51M316.46 231.5h9.55M450.77 231.5h9.55" stroke="#DEF192" stroke-width="1" fill="none"/>
<path d="M343.32 32.5h27.46M352.28 34.5h9.55M370.19 34.5h27.46M343.32 37.5h27.46M379.14 37.5h18.51M388.10 38.5h9.55M370.19 39.5h9.55M370.19 41.5h27.46M343.32 43.5h27.46M352.28 44.5h9.55M343.32 45.5h9.55M361.23 45.5h9.55M379.14 45.5h9.55M343.32 46.5h9.55M361.23 46.5h18.51M343.32 47.5h18.51M370.19 47.5h9.55M388.10 48.5h9.55M325.42 50.5h9.55M370.19 50.5h27.46M388.10 51.5h9.55M352.28 52.5h9.55M289.60 53.5h9.55M289.60 54.5h18.51M307.51 55.5h9.55M289.60 56.5h9.55M343.32 63.5h9.55M370.19 63.5h27.46M316.46 65.5h27.46M316.46 68.5h27.46M361.23 70.5h9.55M289.60 71.5h9.55M379.14 71.5h9.55M370.19 72.5h27.46M298.55 73.5h9.55M307.51 74.5h9.55M379.14 74.5h9.55M343.32 75.5h9.55M379.14 77.5h9.55M316.46 78.5h9.55M334.37 78.5h9.55M370.19 78.5h9.55M316.46 79.5h27.46M352.28 79.5h18.51M289.60 80.5h9.55M307.51 80.5h9.55M370.19 80.5h27.46M334.37 81.5h27.46M316.46 83.5h9.55M370.19 89.5h9.55M343.32 93.5h18.51M370.19 97.5h9.55M334.37 128.5h9.55M397.05 130.5h9.55M397.05 132.5h9.55M414.96 132.5h9.55M406.00 135.5h18.51M477.64 139.5h27.46M397.05 144.5h9.55M414.96 144.5h36.42M397.05 145.5h18.51M450.77 145.5h18.51M441.82 146.5h9.55M459.73 147.5h9.55M450.77 148.5h27.46M423.91 149.5h9.55M486.59 149.5h18.51M459.73 152.5h18.51M450.77 153.5h9.55M468.68 153.5h9.55M450.77 154.5h9.55M468.68 154.5h9.55M459.73 155.5h9.55M397.05 156.5h9.55M432.87 158.5h9.55M477.64 158.5h27.46M450.77 159.5h27.46M414.96 160.5h9.55M397.05 163.5h18.51M468.68 163.5h9.55M397.05 165.5h9.55M414.96 165.5h9.55M414.96 166.5h27.46M432.87 167.5h9.55M406.00 169.5h9.55M423.91 169.5h27.46M397.05 170.5h36.42M450.77 171.5h45.37M423.91 172.5h18.51M406.00 173.5h9.55M414.96 174.5h9.55M477.64 175.5h18.51M397.05 176.5h9.55M486.59 177.5h18.51M432.87 178.5h9.55M477.64 178.5h9.55M450.77 179.5h9.55M441.82 180.5h9.55M397.05 182.5h9.55M423.91 182.5h27.46M486.59 182.5h18.51M441.82 183.5h9.55M477.64 184.5h9.55M495.55 184.5h9.55M406.00 185.5h9.55M432.87 185.5h18.51M397.05 186.5h18.51M432.87 186.5h9.55M397.05 188.5h27.46M406.00 190.5h9.55M406.00 191.5h9.55M477.64 193.5h9.55M495.55 193.5h9.55M406.00 194.5h18.51M406.00 195.5h18.51M495.55 200.5h9.55M495.55 212.5h9.55M477.64 214.5h18.51M486.59 215.5h18.51M352.28 220.5h9.55M289.60 221.5h9.55M289.60 222.5h9.55M289.60 223.5h9.55M423.91 231.5h9.55" stroke="#FDBB6C" stroke-width="1" fill="none"/>
<path d="M289.60 33.5h27.46M370.19 109.5h27.46M379.14 111.5h18.51M334.37 116.5h9.55M289.60 119.5h27.46M289.60 121.5h18.51M397.05 124.5h9.55M414.96 124.5h9.55M397.05 125.5h9.55M406.00 126.5h18.51M397.05 129.5h18.51M370.19 131.5h18.51M450.77 131.5h27.46M468.68 132.5h9.55M450.77 133.5h27.46M450.77 135.5h27.46M450.77 136.5h9.55M486.59 136.5h9.55M459.73 137.5h9.55M406.00 215.5h9.55M414.96 218.5h9.55M406.00 219.5h18.51M477.64 219.5h18.51M397.05 220.5h18.51M397.05 221.5h18.51M397.05 222.5h18.51M477.64 222.5h9.55M477.64 223.5h18.51M334.37 225.5h9.55M289.60 226.5h9.55M307.51 226.5h9.55M298.55 227.5h18.51M334.37 227.5h9.55M307.51 228.5h27.46M307.51 230.5h9.55M325.42 230.5h18.51M325.42 231.5h9.55M459.73 231.5h9.55" stroke="#E6F59D" stroke-width="1" fill="none"/>
<path d="M316.46 33.5h18.51M316.46 99.5h9.55M325.42 102.5h18.51M334.37 106.5h9.55M334.37 108.5h9.55M343.32 109.5h9.55M361.23 109.5h9.55M316.46 111.5h9.55M334.37 111.5h36.42M316.46 112.5h18.51M343.32 112.5h9.55M370.19 112.5h18.51M325.42 113.5h18.51M352.28 113.5h18.51M388.10 113.5h9.55M325.42 114.5h18.51M352.28 114.5h9.55M379.14 114.5h9.55M316.46 115.5h18.51M343.32 115.5h27.46M316.46 117.5h18.51M316.46 118.5h18.51M298.55 122.5h18.51M289.60 123.5h27.46M289.60 127.5h27.46M432.87 129.5h18.51M307.51 131.5h18.51M477.64 132.5h18.51M477.64 133.5h27.46M486.59 135.5h18.51M495.55 136.5h9.55M459.73 181.5h18.51M459.73 187.5h9.55M450.77 194.5h18.51M450.77 197.5h18.51M450.77 200.5h9.55M468.68 200.5h9.55M459.73 201.5h9.55M459.73 203.5h9.55M459.73 205.5h18.51M450.77 206.5h9.55M468.68 206.5h9.55M450.77 211.5h9.55M468.68 211.5h9.55M423.91 215.5h9.55M397.05 216.5h9.55M414.96 216.5h9.55M432.87 216.5h18.51M423.91 217.5h27.46M423.91 218.5h9.55M441.82 218.5h9.55M441.82 219.5h9.55M298.55 221.5h18.51M343.32 221.5h18.51M432.87 221.5h9.55M459.73 228.5h18.51M450.77 230.5h27.46M486.59 231.5h18.51" stroke="#F7FCB4" stroke-width="1" fill="none"/>
<path d="M334.37 33.5h9.55M325.42 53.5h18.51M316.46 55.5h9.55M289.60 76.5h27.46M325.42 99.5h18.51M316.46 100.5h9.55M334.37 100.5h9.55M361.23 102.5h9.55M388.10 103.5h9.55M316.46 104.5h27.46M316.46 106.5h18.51M334.37 107.5h9.55M316.46 108.5h18.51M352.28 109.5h9.55M316.46 110.5h9.55M334.37 110.5h9.55M352.28 110.5h9.55M325.42 111.5h9.55M334.37 112.5h9.55M316.46 113.5h9.55M316.46 114.5h9.55M334.37 115.5h9.55M298.55 117.5h9.55M289.60 122.5h9.55M298.55 124.5h9.55M298.55 126.5h9.55M379.14 127.5h18.51M343.32 128.5h27.46M379.14 128.5h18.51M423.91 128.5h27.46M423.91 129.5h9.55M361.23 130.5h18.51M388.10 130.5h9.55M298.55 131.5h9.55M450.77 134.5h9.55M477.64 137.5h9.55M450.77 181.5h9.55M450.77 183.5h9.55M450.77 187.5h9.55M468.68 187.5h9.55M459.73 190.5h9.55M450.77 191.5h9.55M468.68 191.5h9.55M459.73 192.5h9.55M468.68 194.5h9.55M450.77 196.5h27.46M423.91 197.5h9.55M468.68 197.5h9.55M468.68 199.5h9.55M459.73 200.5h9.55M468.68 201.5h9.55M450.77 202.5h27.46M450.77 204.5h9.55M459.73 209.5h9.55M450.77 210.5h18.51M459.73 211.5h9.55M459.73 212.5h18.51M423.91 216.5h9.55M423.91 220.5h27.46M325.42 221.5h18.51M361.23 221.5h9.55M423.91 221.5h9.55M468.68 221.5h9.55M298.55 222.5h9.55M450.77 228.5h9.55M397.05 229.5h9.55M414.96 229.5h9.55M477.64 231.5h9.55" stroke="#FFFFBF" stroke-width="1" fill="none"/>
<path d="M289.60 34.5h9.55M289.60 39.5h18.51M298.55 42.5h9.55M298.55 44.5h9.55M289.60 49.5h18.51M316.46 54.5h27.46M316.46 57.5h9.55M334.37 57.5h9.55M343.32 66.5h27.46M334.37 74.5h9.55M307.51 78.5h9.55M370.19 99.5h18.51M343.32 100.5h9.55M370.19 100.5h27.46M316.46 101.5h9.55M370.19 102.5h27.46M316.46 103.5h27.46M370.19 104.5h9.55M388.10 104.5h9.55M388.10 107.5h9.55M352.28 108.5h18.51M316.46 109.5h9.55M334.37 109.5h9.55M343.32 110.5h9.55M361.23 110.5h18.51M289.60 116.5h9.55M307.51 116.5h9.55M307.51 118.5h9.55M361.23 119.5h9.55M343.32 123.5h18.51M343.32 124.5h9.55M343.32 125.5h9.55M361.23 125.5h9.55M379.14 125.5h9.55M343.32 126.5h9.55M370.19 126.5h9.55M343.32 127.5h18.51M289.60 128.5h9.55M307.51 128.5h9.55M370.19 128.5h9.55M361.23 129.5h18.51M388.10 129.5h9.55M468.68 134.5h18.51M414.96 154.5h9.55M477.64 157.5h18.51M450.77 164.5h9.55M459.73 184.5h9.55M459.73 185.5h9.55M450.77 188.5h27.46M423.91 194.5h9.55M441.82 195.5h18.51M423.91 196.5h27.46M468.68 198.5h9.55M459.73 199.5h9.55M432.87 203.5h9.55M477.64 203.5h27.46M432.87 205.5h9.55M432.87 206.5h18.51M450.77 207.5h9.55M468.68 207.5h9.55M477.64 211.5h9.55M495.55 211.5h9.55M397.05 212.5h9.55M414.96 212.5h27.46M423.91 213.5h9.55M441.82 213.5h9.55M450.77 214.5h27.46M307.51 222.5h9.55M325.42 222.5h27.46M343.32 223.5h9.55M397.05 224.5h9.55M423.91 229.5h18.51" stroke="#FFF2A8" stroke-width="1" fill="none"/>
<path d="M298.55 34.5h18.51M289.60 35.5h27.46M307.51 39.5h9.55M289.60 40.5h27.46M289.60 42.5h9.55M289.60 44.5h9.55M307.51 44.5h9.55M289.60 47.5h9.55M307.51 47.5h9.55M289.60 48.5h36.42M334.37 48.5h9.55M289.60 51.5h36.42M352.28 53.5h18.51M325.42 57.5h9.55M361.23 57.5h18.51M316.46 60.5h9.55M316.46 61.5h27.46M370.19 61.5h9.55M388.10 62.5h9.55M325.42 66.5h9.55M325.42 73.5h9.55M334.37 75.5h9.55M289.60 77.5h27.46M289.60 78.5h18.51M370.19 82.5h27.46M388.10 90.5h9.55M316.46 94.5h9.55M334.37 94.5h9.55M352.28 95.5h45.37M343.32 96.5h9.55M361.23 96.5h9.55M352.28 98.5h18.51M343.32 99.5h27.46M388.10 99.5h9.55M352.28 100.5h18.51M379.14 104.5h9.55M370.19 105.5h27.46M298.55 116.5h9.55M298.55 118.5h9.55M343.32 119.5h9.55M352.28 120.5h9.55M379.14 121.5h18.51M352.28 122.5h9.55M352.28 124.5h18.51M370.19 125.5h9.55M361.23 126.5h9.55M379.14 126.5h18.51M298.55 128.5h9.55M289.60 130.5h9.55M334.37 130.5h9.55M486.59 134.5h18.51M414.96 148.5h9.55M406.00 152.5h9.55M495.55 152.5h9.55M495.55 153.5h9.55M397.05 154.5h9.55M423.91 154.5h18.51M477.64 154.5h18.51M486.59 155.5h9.55M423.91 157.5h9.55M495.55 157.5h9.55M495.55 159.5h9.55M459.73 164.5h18.51M459.73 172.5h9.55M450.77 180.5h27.46M468.68 184.5h9.55M477.64 187.5h27.46M477.64 188.5h27.46M477.64 190.5h9.55M495.55 190.5h9.55M432.87 194.5h18.51M477.64 194.5h27.46M423.91 195.5h18.51M477.64 197.5h18.51M423.91 198.5h9.55M441.82 198.5h27.46M423.91 201.5h18.51M423.91 203.5h9.55M441.82 203.5h9.55M423.91 204.5h9.55M477.64 204.5h27.46M423.91 206.5h9.55M477.64 206.5h9.55M495.55 206.5h9.55M459.73 207.5h9.55M486.59 208.5h9.55M423.91 209.5h18.51M423.91 210.5h27.46M486.59 211.5h9.55M441.82 212.5h9.55M397.05 213.5h9.55M406.00 214.5h9.55M450.77 215.5h9.55M459.73 218.5h9.55M468.68 219.5h9.55M450.77 220.5h9.55M468.68 220.5h9.55M423.91 222.5h9.55M307.51 223.5h9.55M477.64 224.5h27.46M397.05 225.5h18.51M477.64 225.5h27.46M423.91 226.5h27.46M397.05 227.5h9.55M477.64 227.5h9.55M495.55 227.5h9.55M397.05 228.5h9.55M432.87 228.5h18.51M477.64 228.5h27.46M441.82 229.5h9.55" stroke="#FEEB9D" stroke-width="1" fill="none"/>
<path d="M316.46 35.5h18.51M316.46 37.5h9.55M352.28 38.5h9.55M370.19 38.5h18.51M361.23 40.5h9.55M343.32 49.5h9.55M316.46 50.5h9.55M370.19 52.5h27.46M289.60 55.5h18.51M298.55 56.5h18.51M343.32 65.5h9.55M298.55 75.5h18.51M343.32 79.5h9.55M316.46 80.5h27.46M307.51 89.5h9.55M289.60 96.5h9.55M307.51 96.5h9.55M316.46 97.5h9.55M334.37 97.5h36.42M289.60 99.5h9.55M307.51 99.5h9.55M289.60 100.5h9.55M298.55 107.5h9.55M316.46 128.5h9.55M423.91 130.5h18.51M397.05 131.5h18.51M423.91 131.5h9.55M406.00 132.5h9.55M397.05 133.5h27.46M397.05 134.5h27.46M450.77 140.5h18.51M450.77 142.5h18.51M406.00 144.5h9.55M468.68 145.5h9.55M450.77 146.5h27.46M450.77 147.5h9.55M468.68 147.5h9.55M441.82 149.5h9.55M477.64 149.5h9.55M459.73 150.5h18.51M450.77 152.5h9.55M450.77 158.5h9.55M468.68 158.5h9.55M450.77 160.5h27.46M432.87 165.5h9.55M441.82 166.5h9.55M477.64 166.5h27.46M432.87 170.5h18.51M495.55 171.5h9.55M397.05 172.5h27.46M397.05 173.5h9.55M495.55 175.5h9.55M423.91 178.5h9.55M441.82 178.5h9.55M406.00 179.5h9.55M432.87 179.5h18.51M423.91 180.5h18.51M432.87 183.5h9.55M397.05 185.5h9.55M414.96 185.5h18.51M423.91 186.5h9.55M441.82 186.5h9.55M406.00 187.5h18.51M423.91 190.5h27.46M397.05 191.5h9.55M414.96 191.5h9.55M397.05 192.5h18.51M432.87 192.5h18.51M397.05 195.5h9.55M406.00 196.5h9.55M414.96 197.5h9.55M477.64 200.5h18.51M397.05 206.5h9.55M477.64 212.5h18.51M477.64 215.5h9.55M477.64 217.5h9.55M495.55 217.5h9.55M343.32 220.5h9.55M361.23 220.5h9.55" stroke="#FDB063" stroke-width="1" fill="none"/>
<path d="M334.37 35.5h9.55M325.42 37.5h18.51M316.46 38.5h9.55M334.37 38.5h18.51M361.23 38.5h9.55M343.32 39.5h9.55M343.32 40.5h18.51M343.32 42.5h9.55M361.23 42.5h9.55M352.28 49.5h18.51M352.28 65.5h18.51M316.46 72.5h27.46M289.60 73.5h9.55M370.19 73.5h9.55M289.60 74.5h9.55M370.19 74.5h9.55M289.60 75.5h9.55M370.19 75.5h27.46M298.55 96.5h9.55M325.42 97.5h9.55M298.55 99.5h9.55M298.55 100.5h9.55M289.60 107.5h9.55M307.51 107.5h9.55M298.55 108.5h18.51M441.82 130.5h9.55M432.87 131.5h18.51M468.68 140.5h9.55M423.91 141.5h27.46M468.68 142.5h9.55M450.77 144.5h27.46M432.87 149.5h9.55M450.77 150.5h9.55M450.77 151.5h27.46M459.73 158.5h9.55M397.05 171.5h9.55M423.91 171.5h9.55M441.82 171.5h9.55M414.96 173.5h27.46M441.82 175.5h9.55M397.05 177.5h27.46M432.87 177.5h18.51M397.05 179.5h9.55M423.91 179.5h9.55M397.05 187.5h9.55M432.87 188.5h18.51M423.91 191.5h18.51M414.96 192.5h9.55M397.05 193.5h9.55M414.96 193.5h9.55M414.96 196.5h9.55M397.05 197.5h18.51M406.00 205.5h18.51M414.96 206.5h9.55M477.64 213.5h9.55M495.55 213.5h9.55M477.64 216.5h27.46M486.59 217.5h9.55M477.64 218.5h27.46M450.77 223.5h9.55M423.91 230.5h9.55M441.82 230.5h9.55" stroke="#FBA35C" stroke-width="1" fill="none"/>
<path d="M343.32 35.5h9.55M298.55 109.5h9.55M289.60 113.5h27.46M307.51 114.5h9.55M289.60 115.5h27.46M397.05 117.5h9.55M414.96 117.5h9.55M397.05 118.5h9.55M414.96 118.5h9.55M325.42 122.5h9.55M325.42 123.5h18.51M325.42 127.5h9.55M423.91 138.5h27.46M397.05 202.5h18.51M397.05 207.5h9.55M414.96 210.5h9.55M450.77 226.5h9.55M468.68 226.5h9.55" stroke="#F36A42" stroke-width="1" fill="none"/>
<path d="M352.28 35.5h18.51M370.19 42.5h9.55M361.23 50.5h9.55M289.60 72.5h9.55M316.46 73.5h9.55M316.46 74.5h9.55M316.46 75.5h9.55M298.55 101.5h9.55M298.55 106.5h9.55M289.60 109.5h9.55M307.51 109.5h9.55M289.60 111.5h27.46M406.00 117.5h9.55M316.46 119.5h9.55M334.37 119.5h9.55M325.42 121.5h18.51M316.46 122.5h9.55M334.37 122.5h9.55M316.46 123.5h9.55M316.46 126.5h27.46M423.91 132.5h18.51M423.91 133.5h27.46M423.91 135.5h27.46M441.82 136.5h9.55M423.91 137.5h9.55M441.82 137.5h9.55M468.68 141.5h9.55M397.05 198.5h27.46M414.96 202.5h9.55M397.05 204.5h27.46M406.00 207.5h18.51M397.05 210.5h9.55M450.77 225.5h9.55M468.68 225.5h9.55" stroke="#F67848" stroke-width="1" fill="none"/>
<path d="M370.19 35.5h27.46M352.28 39.5h9.55M361.23 41.5h9.55M379.14 42.5h9.55M343.32 50.5h9.55M298.55 72.5h18.51M289.60 97.5h18.51M289.60 98.5h27.46M289.60 101.5h9.55M289.60 104.5h9.55M343.32 105.5h18.51M289.60 106.5h9.55M307.51 106.5h9.55M343.32 106.5h27.46M289.60 112.5h18.51M325.42 119.5h9.55M325.42 120.5h18.51M316.46 121.5h9.55M316.46 124.5h27.46M441.82 132.5h9.55M432.87 136.5h9.55M432.87 137.5h9.55M450.77 141.5h18.51M450.77 149.5h9.55M432.87 184.5h18.51M397.05 200.5h27.46M406.00 201.5h18.51M397.05 203.5h9.55M406.00 209.5h18.51M406.00 210.5h9.55M388.10 221.5h9.55M370.19 222.5h9.55M388.10 222.5h9.55M370.19 223.5h18.51M450.77 224.5h9.55M459.73 225.5h9.55" stroke="#F8864F" stroke-width="1" fill="none"/>
<path d="M325.42 38.5h9.55M361.23 39.5h9.55M343.32 41.5h18.51M352.28 42.5h9.55M388.10 42.5h9.55M352.28 50.5h9.55M370.19 65.5h27.46M343.32 80.5h27.46M307.51 97.5h9.55M307.51 100.5h9.55M307.51 101.5h9.55M289.60 103.5h27.46M298.55 104.5h18.51M361.23 105.5h9.55M289.60 108.5h9.55M307.51 112.5h9.55M316.46 120.5h9.55M423.91 136.5h9.55M450.77 143.5h27.46M459.73 149.5h18.51M450.77 156.5h27.46M406.00 171.5h18.51M432.87 171.5h9.55M441.82 173.5h9.55M423.91 175.5h18.51M423.91 177.5h9.55M414.96 179.5h9.55M423.91 184.5h9.55M423.91 188.5h9.55M397.05 189.5h54.33M441.82 191.5h9.55M423.91 192.5h9.55M406.00 193.5h9.55M397.05 196.5h9.55M397.05 199.5h27.46M397.05 201.5h9.55M406.00 203.5h18.51M397.05 205.5h9.55M406.00 206.5h9.55M397.05 208.5h27.46M397.05 209.5h9.55M397.05 211.5h27.46M486.59 213.5h9.55M370.19 221.5h18.51M379.14 222.5h9.55M388.10 223.5h9.55M459.73 223.5h18.51M459.73 224.5h18.51M432.87 230.5h9.55" stroke="#F99555" stroke-width="1" fill="none"/>
<path d="M307.51 49.5h9.55M316.46 53.5h9.55M325.42 55.5h18.51M334.37 73.5h9.55M325.42 74.5h9.55M343.32 98.5h9.55M325.42 100.5h9.55M325.42 101.5h18.51M343.32 102.5h18.51M370.19 103.5h18.51M316.46 107.5h18.51M370.19 107.5h18.51M343.32 108.5h9.55M370.19 108.5h27.46M325.42 109.5h9.55M325.42 110.5h9.55M379.14 110.5h18.51M343.32 114.5h9.55M361.23 114.5h9.55M289.60 117.5h9.55M307.51 117.5h9.55M361.23 123.5h36.42M289.60 124.5h9.55M307.51 124.5h9.55M289.60 125.5h27.46M352.28 125.5h9.55M289.60 126.5h9.55M307.51 126.5h9.55M352.28 126.5h9.55M361.23 127.5h18.51M343.32 129.5h18.51M379.14 129.5h9.55M343.32 130.5h18.51M379.14 130.5h9.55M459.73 134.5h9.55M486.59 137.5h18.51M450.77 182.5h27.46M459.73 183.5h18.51M450.77 184.5h9.55M450.77 185.5h9.55M468.68 185.5h9.55M450.77 189.5h27.46M450.77 190.5h9.55M468.68 190.5h9.55M459.73 191.5h9.55M450.77 192.5h9.55M468.68 192.5h9.55M459.73 195.5h18.51M432.87 197.5h18.51M450.77 199.5h9.55M450.77 201.5h9.55M459.73 204.5h18.51M423.91 205.5h9.55M441.82 205.5h9.55M486.59 206.5h9.55M450.77 209.5h9.55M468.68 209.5h9.55M468.68 210.5h9.55M406.00 212.5h9.55M432.87 213.5h9.55M450.77 216.5h27.46M441.82 221.5h27.46M352.28 222.5h18.51M325.42 223.5h18.51M352.28 223.5h18.51M397.05 223.5h9.55M406.00 224.5h18.51M477.64 226.5h27.46M450.77 227.5h27.46M406.00 229.5h9.55M477.64 229.5h27.46M397.05 231.5h27.46" stroke="#FFF8B4" stroke-width="1" fill="none"/>
<path d="M316.46 102.5h9.55M370.19 111.5h9.55M352.28 112.5h18.51M388.10 112.5h9.55M343.32 113.5h9.55M370.19 113.5h18.51M370.19 114.5h9.55M388.10 114.5h9.55M343.32 116.5h27.46M334.37 117.5h9.55M334.37 118.5h9.55M414.96 129.5h9.55M289.60 131.5h9.55M325.42 131.5h45.37M388.10 131.5h9.55M495.55 132.5h9.55M477.64 135.5h9.55M459.73 136.5h27.46M450.77 137.5h9.55M468.68 137.5h9.55M450.77 203.5h9.55M468.68 203.5h9.55M450.77 205.5h9.55M459.73 206.5h9.55M450.77 208.5h27.46M450.77 212.5h9.55M423.91 214.5h27.46M397.05 215.5h9.55M432.87 215.5h18.51M406.00 216.5h9.55M397.05 217.5h27.46M397.05 218.5h18.51M432.87 218.5h9.55M423.91 219.5h18.51M414.96 221.5h9.55M414.96 222.5h9.55M406.00 223.5h18.51M495.55 223.5h9.55M289.60 227.5h9.55M316.46 230.5h9.55M334.37 231.5h9.55M468.68 231.5h9.55" stroke="#EEF8A8" stroke-width="1" fill="none"/>
<path d="M289.60 105.5h9.55M307.51 105.5h9.55" stroke="#E04330" stroke-width="1" fill="none"/>
<path d="M298.55 105.5h9.55M316.46 125.5h27.46M316.46 221.5h9.55M316.46 222.5h9.55M316.46 223.5h9.55" stroke="#DA3529" stroke-width="1" fill="none"/>
<path d="M289.60 110.5h27.46M289.60 114.5h18.51M406.00 118.5h9.55M432.87 134.5h18.51M459.73 226.5h9.55" stroke="#EC5D3C" stroke-width="1" fill="none"/>
<path d="M316.46 127.5h9.55M334.37 127.5h9.55M423.91 134.5h9.55" stroke="#E65036" stroke-width="1" fill="none"/>
<path d="M406.00 127.5h18.51M307.51 132.5h9.55" stroke="#BEE47A" stroke-width="1" fill="none"/>
</g>
</g></g>
<rect x="289.90" y="25.2" width="26.91" height="4.7" fill="#1B9E77"/>
<rect x="316.76" y="25.2" width="26.91" height="4.7" fill="#7570B3"/>
<rect x="343.62" y="25.2" width="26.91" height="4.7" fill="#EE6208"/>
<rect x="370.49" y="25.2" width="26.91" height="4.7" fill="#F5259A"/>
<rect x="397.35" y="25.2" width="26.91" height="4.7" fill="#3FA91F"/>
<rect x="424.21" y="25.2" width="26.91" height="4.7" fill="#F3A30B"/>
<rect x="451.07" y="25.2" width="26.91" height="4.7" fill="#666666"/>
<rect x="477.94" y="25.2" width="26.91" height="4.7" fill="#B2710F"/>
<path d="M303.33 20.60H312.29M303.33 20.60V25.20M312.29 20.60V25.20M294.38 19.70H307.81M294.38 19.70V25.20M307.81 19.70V20.60M330.19 21.90H339.15M330.19 21.90V25.20M339.15 21.90V25.20M321.24 18.60H334.67M321.24 18.60V25.20M334.67 18.60V21.90M357.06 21.90H366.01M357.06 21.90V25.20M366.01 21.90V25.20M348.10 20.80H361.53M348.10 20.80V25.20M361.53 20.80V21.90M383.92 21.50H392.87M383.92 21.50V25.20M392.87 21.50V25.20M374.96 20.10H388.40M374.96 20.10V25.20M388.40 20.10V21.50M354.82 17.50H381.68M354.82 17.50V20.80M381.68 17.50V20.10M327.96 14.90H368.25M327.96 14.90V18.60M368.25 14.90V17.50M301.09 13.60H348.10M301.09 13.60V19.70M348.10 13.60V14.90M410.78 20.80H419.74M410.78 20.80V25.20M419.74 20.80V25.20M401.83 20.10H415.26M401.83 20.10V25.20M415.26 20.10V20.80M437.64 20.80H446.60M437.64 20.80V25.20M446.60 20.80V25.20M428.69 20.10H442.12M428.69 20.10V25.20M442.12 20.10V20.80M464.51 22.50H473.46M464.51 22.50V25.20M473.46 22.50V25.20M455.55 21.60H468.98M455.55 21.60V25.20M468.98 21.60V22.50M491.37 20.80H500.32M491.37 20.80V25.20M500.32 20.80V25.20M482.41 20.10H495.85M482.41 20.10V25.20M495.85 20.10V20.80M462.27 17.50H489.13M462.27 17.50V21.60M489.13 17.50V20.10M435.41 15.80H475.70M435.41 15.80V20.10M475.70 15.80V17.50M408.54 13.10H455.55M408.54 13.10V20.10M455.55 13.10V15.80M324.60 3.90H432.05M324.60 3.90V13.60M432.05 3.90V13.10" stroke="#333" stroke-width="0.55" fill="none"/>
<rect x="280.8" y="31.0" width="9.3" height="200.75" fill="#000"/>
<path d="M276.9 31.00H281M278.7 31.68H281M277.9 32.20H281M275.3 32.89H281M279.0 33.59H281M275.9 34.29H281M279.6 34.95H281M280.4 35.60H281M280.5 36.17H281M279.1 36.71H281M278.4 37.23H281M278.7 37.78H281M280.1 38.34H281M278.1 38.98H281M278.5 39.58H281M280.9 40.22H281M278.7 40.98H281M280.9 41.57H281M279.2 42.32H281M280.5 42.88H281M279.7 43.65H281M280.3 44.21H281M275.9 44.93H281M275.1 45.49H281M273.1 46.28H281M272.0 46.91H281M274.1 47.43H281M272.0 48.00H281M272.0 48.66H281M279.4 49.40H281M274.4 49.94H281M280.1 50.71H281M280.4 51.26H281M272.0 51.87H281M272.7 52.56H281M280.9 53.08H281M273.3 53.61H281M273.0 54.21H281M272.0 54.75H281M279.6 55.53H281M274.5 56.31H281M273.2 56.83H281M279.0 57.38H281M275.2 58.09H281M280.7 58.67H281M274.0 59.29H281M279.4 59.97H281M272.0 60.58H281M272.0 61.32H281M272.0 62.02H281M272.3 62.81H281M273.0 63.32H281M272.5 64.06H281M273.2 64.79H281M272.6 65.39H281M274.7 66.09H281M275.9 66.83H281M275.4 67.35H281M276.8 68.06H281M278.7 68.82H281M275.8 69.44H281M274.9 70.07H281M273.3 70.61H281M272.0 71.27H281M280.8 72.03H281M278.5 72.67H281M272.0 73.33H281M272.0 73.89H281M272.0 74.48H281M273.6 75.21H281M280.6 75.93H281M280.9 76.54H281M275.9 77.10H281M279.9 77.79H281M274.3 78.55H281M274.6 79.32H281M279.6 80.04H281M272.0 80.56H281M278.7 81.34H281M275.3 82.10H281M280.3 82.80H281M275.3 83.52H281M277.2 84.17H281M278.7 84.72H281M279.5 85.37H281M280.0 85.99H281M279.9 86.66H281M280.5 87.43H281M280.0 88.08H281M280.5 88.70H281M280.1 89.27H281M280.5 89.99H281M279.5 90.68H281M274.7 91.34H281M279.5 92.08H281M280.1 92.65H281M275.6 93.25H281M276.8 93.86H281M276.9 94.36H281M278.1 94.97H281M280.5 95.66H281M279.5 96.29H281M278.0 97.02H281M280.5 97.79H281M278.6 98.42H281M279.3 99.07H281M280.5 99.59H281M280.5 100.21H281M280.9 100.79H281M277.3 101.53H281M279.2 102.10H281M280.0 102.69H281M280.5 103.20H281M279.9 103.78H281M279.4 104.55H281M278.6 105.26H281M275.8 105.81H281M275.2 106.53H281M275.0 107.15H281M277.0 107.86H281M274.5 108.48H281M275.3 109.12H281M274.8 109.88H281M274.1 110.65H281M273.2 111.18H281M279.5 111.92H281M274.1 112.61H281M279.7 113.28H281M272.5 113.88H281M274.9 114.53H281M274.6 115.14H281M274.4 115.78H281M273.2 116.57H281M278.6 117.25H281M274.3 117.98H281M275.5 118.70H281M276.1 119.27H281M276.8 119.91H281M274.6 120.65H281M280.4 121.44H281M281.0 122.05H281M275.0 122.83H281M272.0 123.47H281M280.3 124.08H281M273.5 124.65H281M276.0 125.32H281M280.9 126.07H281M275.4 126.83H281M273.9 127.62H281M274.0 128.19H281M275.9 128.93H281M275.3 129.44H281M273.4 130.22H281M275.4 130.99H281M275.9 131.62H281M277.6 132.30H281M277.1 132.81H281M275.8 133.51H281M276.3 134.25H281M276.4 134.89H281M278.9 135.57H281M279.6 136.26H281M277.5 137.05H281M278.7 137.58H281M276.9 138.22H281M280.1 138.98H281M275.4 139.76H281M273.6 140.54H281M280.5 141.05H281M272.0 141.78H281M272.3 142.50H281M272.0 143.17H281M273.0 143.79H281M272.2 144.30H281M274.8 144.98H281M276.3 145.67H281M277.7 146.19H281M277.3 146.75H281M275.3 147.26H281M275.7 147.78H281M279.9 148.38H281M280.8 149.06H281M280.8 149.62H281M280.5 150.18H281M280.8 150.88H281M277.4 151.46H281M280.9 152.22H281M276.7 152.74H281M274.0 153.44H281M272.0 154.15H281M279.6 154.92H281M274.5 155.59H281M274.3 156.26H281M276.3 156.80H281M278.9 157.41H281M276.6 158.13H281M275.8 158.75H281M276.4 159.50H281M279.7 160.08H281M278.3 160.62H281M280.5 161.22H281M280.3 161.86H281M280.5 162.62H281M278.9 163.38H281M277.1 164.09H281M274.8 164.70H281M273.4 165.26H281M275.3 165.80H281M276.0 166.49H281M280.3 167.07H281M280.5 167.61H281M280.5 168.23H281M280.5 168.91H281M280.5 169.56H281M279.9 170.25H281M280.0 171.02H281M280.5 171.59H281M279.8 172.16H281M279.3 172.73H281M280.5 173.45H281M280.5 174.18H281M278.7 174.92H281M279.5 175.64H281M280.7 176.32H281M279.4 176.83H281M276.5 177.50H281M280.0 178.03H281M280.0 178.56H281M274.9 179.29H281M273.5 179.86H281M274.5 180.38H281M273.9 181.13H281M278.8 181.80H281M275.1 182.38H281M278.1 183.15H281M279.0 183.72H281M278.9 184.38H281M279.8 184.98H281M280.4 185.61H281M280.4 186.31H281M280.4 186.83H281M278.6 187.47H281M279.5 188.04H281M274.7 188.64H281M276.3 189.32H281M277.6 189.90H281M279.8 190.50H281M276.3 191.09H281M276.5 191.62H281M276.1 192.31H281M277.2 193.09H281M276.1 193.72H281M278.8 194.26H281M279.4 195.00H281M278.7 195.79H281M277.9 196.42H281M277.7 197.04H281M279.5 197.66H281M278.5 198.30H281M274.4 198.95H281M272.0 199.74H281M272.0 200.39H281M272.0 201.10H281M279.2 201.80H281M274.8 202.49H281M276.2 203.25H281M275.8 204.05H281M274.3 204.85H281M278.6 205.39H281M273.5 206.13H281M273.9 206.90H281M280.6 207.49H281M274.2 208.15H281M280.5 208.70H281M278.5 209.28H281M276.3 210.01H281M278.8 210.67H281M280.1 211.29H281M272.0 211.82H281M280.0 212.43H281M279.3 213.05H281M279.8 213.81H281M279.2 214.42H281M280.0 215.04H281M276.6 215.69H281M279.0 216.24H281M279.3 216.87H281M277.9 217.62H281M279.4 218.40H281M280.5 219.17H281M279.4 219.87H281M278.2 220.43H281M277.0 221.08H281M279.1 221.82H281M280.2 222.40H281M279.1 223.06H281M279.3 223.67H281M272.0 224.28H281M274.4 224.98H281M276.0 225.59H281M276.2 226.13H281M276.4 226.92H281M279.5 227.67H281M279.8 228.33H281M277.5 229.12H281M279.3 229.80H281M279.9 230.43H281M280.5 231.07H281M280.5 231.72H281" stroke="#000" stroke-width="0.7" fill="none"/>
<path d="M269.8 53V178M270.6 133V224M271.6 36V70M272.6 80V128M273.2 140V200M274.3 34V52M274.5 60V100M274.8 104V127M275 150V176M275.2 180V214M276.2 40V66M276.5 86V112M276.4 134V160M276.6 190V228M269.8 53H272M269.8 178H271M270.6 133H274M270.6 224H275M271.6 36H275M271.6 70H275M272.6 80H276M272.6 128H276M273.2 140H277M273.2 200H277M274.3 34H278M274.3 52H278M274.5 60H278M274.5 100H278M274.8 104H278M274.8 127H278M275 150H279M275 176H279M275.2 180H279M275.2 214H279" stroke="#555" stroke-width="0.5" fill="none"/>
<text x="506" y="29.3" font-size="4.2" font-weight="bold" fill="#111">Group</text>
<rect x="506.7" y="31.30" width="4.5" height="1.79" fill="rgb(174,5,39)"/>
<rect x="506.7" y="33.04" width="4.5" height="1.79" fill="rgb(193,16,40)"/>
<rect x="506.7" y="34.79" width="4.5" height="1.79" fill="rgb(209,31,41)"/>
<rect x="506.7" y="36.53" width="4.5" height="1.79" fill="rgb(225,51,44)"/>
<rect x="506.7" y="38.28" width="4.5" height="1.79" fill="rgb(235,72,50)"/>
<rect x="506.7" y="40.02" width="4.5" height="1.79" fill="rgb(242,96,60)"/>
<rect x="506.7" y="41.76" width="4.5" height="1.79" fill="rgb(247,119,69)"/>
<rect x="506.7" y="43.51" width="4.5" height="1.79" fill="rgb(249,139,79)"/>
<rect x="506.7" y="45.25" width="4.5" height="1.79" fill="rgb(252,159,89)"/>
<rect x="506.7" y="47.00" width="4.5" height="1.79" fill="rgb(253,174,101)"/>
<rect x="506.7" y="48.74" width="4.5" height="1.79" fill="rgb(253,190,113)"/>
<rect x="506.7" y="50.49" width="4.5" height="1.79" fill="rgb(254,205,125)"/>
<rect x="506.7" y="52.23" width="4.5" height="1.79" fill="rgb(254,217,142)"/>
<rect x="506.7" y="53.97" width="4.5" height="1.79" fill="rgb(255,229,159)"/>
<rect x="506.7" y="55.72" width="4.5" height="1.79" fill="rgb(255,240,176)"/>
<rect x="506.7" y="57.46" width="4.5" height="1.79" fill="rgb(255,245,183)"/>
<rect x="506.7" y="59.21" width="4.5" height="1.79" fill="rgb(255,249,190)"/>
<rect x="506.7" y="60.95" width="4.5" height="1.79" fill="rgb(249,250,187)"/>
<rect x="506.7" y="62.69" width="4.5" height="1.79" fill="rgb(231,244,165)"/>
<rect x="506.7" y="64.44" width="4.5" height="1.79" fill="rgb(213,237,144)"/>
<rect x="506.7" y="66.18" width="4.5" height="1.79" fill="rgb(190,227,130)"/>
<rect x="506.7" y="67.93" width="4.5" height="1.79" fill="rgb(168,217,117)"/>
<rect x="506.7" y="69.67" width="4.5" height="1.79" fill="rgb(145,207,103)"/>
<rect x="506.7" y="71.41" width="4.5" height="1.79" fill="rgb(112,197,96)"/>
<rect x="506.7" y="73.16" width="4.5" height="1.79" fill="rgb(76,186,90)"/>
<rect x="506.7" y="74.90" width="4.5" height="1.79" fill="rgb(40,175,85)"/>
<rect x="506.7" y="76.65" width="4.5" height="1.79" fill="rgb(27,166,81)"/>
<rect x="506.7" y="78.39" width="4.5" height="1.79" fill="rgb(14,157,77)"/>
<rect x="506.7" y="80.14" width="4.5" height="1.79" fill="rgb(1,149,72)"/>
<rect x="506.7" y="81.88" width="4.5" height="1.79" fill="rgb(0,137,68)"/>
<rect x="506.7" y="83.62" width="4.5" height="1.79" fill="rgb(0,125,63)"/>
<rect x="506.7" y="85.37" width="4.5" height="1.79" fill="rgb(0,113,58)"/>
<rect x="506.7" y="87.11" width="4.5" height="1.79" fill="rgb(0,106,55)"/>
<rect x="506.7" y="88.86" width="4.5" height="1.79" fill="rgb(0,102,53)"/>
<text x="512.6" y="37.00" font-size="4" fill="#222">4</text>
<text x="512.6" y="49.80" font-size="4" fill="#222">2</text>
<text x="512.6" y="62.60" font-size="4" fill="#222">0</text>
<text x="512.6" y="75.40" font-size="4" fill="#222">-2</text>
<text x="512.6" y="88.20" font-size="4" fill="#222">-4</text>
<text x="518.3" y="34" font-size="4.2" font-weight="bold" fill="#111">Group</text>
<rect x="518.3" y="35.10" width="5.9" height="5.8" fill="#1B9E77"/>
<text x="525.4" y="39.40" font-size="4" fill="#222">G218WSL</text>
<rect x="518.3" y="40.85" width="5.9" height="5.8" fill="#EE6208"/>
<text x="525.4" y="45.15" font-size="4" fill="#222">G218WSR</text>
<rect x="518.3" y="46.60" width="5.9" height="5.8" fill="#7570B3"/>
<text x="525.4" y="50.90" font-size="4" fill="#222">G230WSL</text>
<rect x="518.3" y="52.35" width="5.9" height="5.8" fill="#F5259A"/>
<text x="525.4" y="56.65" font-size="4" fill="#222">G230WSR</text>
<rect x="518.3" y="58.10" width="5.9" height="5.8" fill="#3FA91F"/>
<text x="525.4" y="62.40" font-size="4" fill="#222">G218CKL</text>
<rect x="518.3" y="63.85" width="5.9" height="5.8" fill="#F3A30B"/>
<text x="525.4" y="68.15" font-size="4" fill="#222">G218CKR</text>
<rect x="518.3" y="69.60" width="5.9" height="5.8" fill="#B2710F"/>
<text x="525.4" y="73.90" font-size="4" fill="#222">G230CKL</text>
<rect x="518.3" y="75.35" width="5.9" height="5.8" fill="#666666"/>
<text x="525.4" y="79.65" font-size="4" fill="#222">G230CKR</text>
</g>
<g id="vennC">
<defs><clipPath id="cbC"><ellipse cx="0.35" cy="0.47" rx="0.35" ry="0.2" transform="rotate(135 0.35 0.47)"/></clipPath><clipPath id="cgC"><ellipse cx="0.65" cy="0.47" rx="0.35" ry="0.2" transform="rotate(45 0.65 0.47)"/></clipPath><clipPath id="ctC"><ellipse cx="0.5" cy="0.57" rx="0.33" ry="0.15" transform="rotate(45 0.5 0.57)"/></clipPath></defs>
<g transform="translate(41.6 409.3) scale(194.5 -194.5)">
<ellipse cx="0.65" cy="0.47" rx="0.35" ry="0.2" transform="rotate(45 0.65 0.47)" fill="rgb(10,214,135)"/>
<ellipse cx="0.35" cy="0.47" rx="0.35" ry="0.2" transform="rotate(135 0.35 0.47)" fill="rgb(100,142,240)"/>
<g clip-path="url(#cbC)"><ellipse cx="0.65" cy="0.47" rx="0.35" ry="0.2" transform="rotate(45 0.65 0.47)" fill="rgb(15,135,215)"/></g>
<ellipse cx="0.5" cy="0.57" rx="0.33" ry="0.15" transform="rotate(45 0.5 0.57)" fill="rgb(225,190,155)"/>
<g clip-path="url(#cgC)"><ellipse cx="0.5" cy="0.57" rx="0.33" ry="0.15" transform="rotate(45 0.5 0.57)" fill="rgb(150,175,125)"/></g>
<g clip-path="url(#cbC)"><ellipse cx="0.5" cy="0.57" rx="0.33" ry="0.15" transform="rotate(45 0.5 0.57)" fill="rgb(173,157,146)"/></g>
<ellipse cx="0.5" cy="0.57" rx="0.35" ry="0.15" transform="rotate(135 0.5 0.57)" fill="rgb(250,150,140)"/>
<g clip-path="url(#cbC)"><ellipse cx="0.5" cy="0.57" rx="0.35" ry="0.15" transform="rotate(135 0.5 0.57)" fill="rgb(226,126,142)"/></g>
<g clip-path="url(#cgC)"><ellipse cx="0.5" cy="0.57" rx="0.35" ry="0.15" transform="rotate(135 0.5 0.57)" fill="rgb(210,150,115)"/></g>
<g clip-path="url(#cbC)"><g clip-path="url(#cgC)"><ellipse cx="0.5" cy="0.57" rx="0.35" ry="0.15" transform="rotate(135 0.5 0.57)" fill="rgb(215,125,140)"/></g></g>
<g clip-path="url(#ctC)"><ellipse cx="0.5" cy="0.57" rx="0.35" ry="0.15" transform="rotate(135 0.5 0.57)" fill="rgb(250,140,120)"/></g>
<ellipse cx="0.65" cy="0.47" rx="0.35" ry="0.2" transform="rotate(45 0.65 0.47)" fill="none" stroke="rgb(40,190,120)" stroke-width="0.0032"/>
<ellipse cx="0.35" cy="0.47" rx="0.35" ry="0.2" transform="rotate(135 0.35 0.47)" fill="none" stroke="rgb(110,125,235)" stroke-width="0.0032"/>
</g>
<text class="s" x="109.7" y="262.4" font-size="8.8" fill="#000" stroke="#000" stroke-width="0.1" text-anchor="middle">167</text>
<text class="s" x="138.8" y="278.0" font-size="8.8" fill="#000" stroke="#000" stroke-width="0.1" text-anchor="middle">55</text>
<text class="s" x="168.0" y="262.4" font-size="8.8" fill="#000" stroke="#000" stroke-width="0.1" text-anchor="middle">525</text>
<text class="s" x="101.9" y="281.9" font-size="8.8" fill="#000" stroke="#000" stroke-width="0.1" text-anchor="middle">31</text>
<text class="s" x="119.4" y="299.4" font-size="8.8" fill="#000" stroke="#000" stroke-width="0.1" text-anchor="middle">2</text>
<text class="s" x="138.8" y="320.8" font-size="8.8" fill="#000" stroke="#000" stroke-width="0.1" text-anchor="middle">6</text>
<text class="s" x="158.3" y="299.4" font-size="8.8" fill="#000" stroke="#000" stroke-width="0.1" text-anchor="middle">6</text>
<text class="s" x="175.8" y="281.9" font-size="8.8" fill="#000" stroke="#000" stroke-width="0.1" text-anchor="middle">273</text>
<text class="s" x="76.6" y="299.4" font-size="8.8" fill="#000" stroke="#000" stroke-width="0.1" text-anchor="middle">1990</text>
<text class="s" x="103.8" y="330.5" font-size="8.8" fill="#000" stroke="#000" stroke-width="0.1" text-anchor="middle">0</text>
<text class="s" x="124.3" y="338.3" font-size="8.8" fill="#000" stroke="#000" stroke-width="0.1" text-anchor="middle">55</text>
<text class="s" x="153.4" y="338.3" font-size="8.8" fill="#000" stroke="#000" stroke-width="0.1" text-anchor="middle">39</text>
<text class="s" x="173.9" y="330.5" font-size="8.8" fill="#000" stroke="#000" stroke-width="0.1" text-anchor="middle">0</text>
<text class="s" x="201.1" y="299.4" font-size="8.8" fill="#000" stroke="#000" stroke-width="0.1" text-anchor="middle">1250</text>
<text class="s" x="138.8" y="357.7" font-size="8.8" fill="#000" stroke="#000" stroke-width="0.1" text-anchor="middle">7243</text>
</g>
<g id="vennD">
<defs><clipPath id="cbD"><ellipse cx="0.35" cy="0.47" rx="0.35" ry="0.2" transform="rotate(135 0.35 0.47)"/></clipPath><clipPath id="cgD"><ellipse cx="0.65" cy="0.47" rx="0.35" ry="0.2" transform="rotate(45 0.65 0.47)"/></clipPath><clipPath id="ctD"><ellipse cx="0.5" cy="0.57" rx="0.33" ry="0.15" transform="rotate(45 0.5 0.57)"/></clipPath></defs>
<g transform="translate(300.6 405.9) scale(190.7 -189.4)">
<ellipse cx="0.65" cy="0.47" rx="0.35" ry="0.2" transform="rotate(45 0.65 0.47)" fill="rgb(10,214,135)"/>
<ellipse cx="0.35" cy="0.47" rx="0.35" ry="0.2" transform="rotate(135 0.35 0.47)" fill="rgb(100,142,240)"/>
<g clip-path="url(#cbD)"><ellipse cx="0.65" cy="0.47" rx="0.35" ry="0.2" transform="rotate(45 0.65 0.47)" fill="rgb(15,135,215)"/></g>
<ellipse cx="0.5" cy="0.57" rx="0.33" ry="0.15" transform="rotate(45 0.5 0.57)" fill="rgb(225,190,155)"/>
<g clip-path="url(#cgD)"><ellipse cx="0.5" cy="0.57" rx="0.33" ry="0.15" transform="rotate(45 0.5 0.57)" fill="rgb(150,175,125)"/></g>
<g clip-path="url(#cbD)"><ellipse cx="0.5" cy="0.57" rx="0.33" ry="0.15" transform="rotate(45 0.5 0.57)" fill="rgb(173,157,146)"/></g>
<ellipse cx="0.5" cy="0.57" rx="0.35" ry="0.15" transform="rotate(135 0.5 0.57)" fill="rgb(250,150,140)"/>
<g clip-path="url(#cbD)"><ellipse cx="0.5" cy="0.57" rx="0.35" ry="0.15" transform="rotate(135 0.5 0.57)" fill="rgb(226,126,142)"/></g>
<g clip-path="url(#cgD)"><ellipse cx="0.5" cy="0.57" rx="0.35" ry="0.15" transform="rotate(135 0.5 0.57)" fill="rgb(210,150,115)"/></g>
<g clip-path="url(#cbD)"><g clip-path="url(#cgD)"><ellipse cx="0.5" cy="0.57" rx="0.35" ry="0.15" transform="rotate(135 0.5 0.57)" fill="rgb(215,125,140)"/></g></g>
<g clip-path="url(#ctD)"><ellipse cx="0.5" cy="0.57" rx="0.35" ry="0.15" transform="rotate(135 0.5 0.57)" fill="rgb(250,140,120)"/></g>
<ellipse cx="0.65" cy="0.47" rx="0.35" ry="0.2" transform="rotate(45 0.65 0.47)" fill="none" stroke="rgb(40,190,120)" stroke-width="0.0032"/>
<ellipse cx="0.35" cy="0.47" rx="0.35" ry="0.2" transform="rotate(135 0.35 0.47)" fill="none" stroke="rgb(110,125,235)" stroke-width="0.0032"/>
</g>
<text class="s" x="367.3" y="263.8" font-size="8.8" fill="#000" stroke="#000" stroke-width="0.1" text-anchor="middle">136</text>
<text class="s" x="396.0" y="278.9" font-size="8.8" fill="#000" stroke="#000" stroke-width="0.1" text-anchor="middle">44</text>
<text class="s" x="424.6" y="263.8" font-size="8.8" fill="#000" stroke="#000" stroke-width="0.1" text-anchor="middle">525</text>
<text class="s" x="359.7" y="282.7" font-size="8.8" fill="#000" stroke="#000" stroke-width="0.1" text-anchor="middle">151</text>
<text class="s" x="376.9" y="299.7" font-size="8.8" fill="#000" stroke="#000" stroke-width="0.1" text-anchor="middle">2</text>
<text class="s" x="396.0" y="320.6" font-size="8.8" fill="#000" stroke="#000" stroke-width="0.1" text-anchor="middle">1</text>
<text class="s" x="415.0" y="299.7" font-size="8.8" fill="#000" stroke="#000" stroke-width="0.1" text-anchor="middle">2</text>
<text class="s" x="432.2" y="282.7" font-size="8.8" fill="#000" stroke="#000" stroke-width="0.1" text-anchor="middle">161</text>
<text class="s" x="334.9" y="299.7" font-size="8.8" fill="#000" stroke="#000" stroke-width="0.1" text-anchor="middle">2214</text>
<text class="s" x="361.6" y="330.1" font-size="8.8" fill="#000" stroke="#000" stroke-width="0.1" text-anchor="middle">0</text>
<text class="s" x="381.6" y="337.6" font-size="8.8" fill="#000" stroke="#000" stroke-width="0.1" text-anchor="middle">38</text>
<text class="s" x="410.3" y="337.6" font-size="8.8" fill="#000" stroke="#000" stroke-width="0.1" text-anchor="middle">57</text>
<text class="s" x="430.3" y="330.1" font-size="8.8" fill="#000" stroke="#000" stroke-width="0.1" text-anchor="middle">1</text>
<text class="s" x="457.0" y="299.7" font-size="8.8" fill="#000" stroke="#000" stroke-width="0.1" text-anchor="middle">1712</text>
<text class="s" x="396.0" y="356.6" font-size="8.8" fill="#000" stroke="#000" stroke-width="0.1" text-anchor="middle">5762</text>
</g>
<g id="vennE">
<defs><clipPath id="cbE"><ellipse cx="0.35" cy="0.47" rx="0.35" ry="0.2" transform="rotate(135 0.35 0.47)"/></clipPath><clipPath id="cgE"><ellipse cx="0.65" cy="0.47" rx="0.35" ry="0.2" transform="rotate(45 0.65 0.47)"/></clipPath><clipPath id="ctE"><ellipse cx="0.5" cy="0.57" rx="0.33" ry="0.15" transform="rotate(45 0.5 0.57)"/></clipPath></defs>
<g transform="translate(39.4 565.4) scale(198.5 -198.5)">
<ellipse cx="0.65" cy="0.47" rx="0.35" ry="0.2" transform="rotate(45 0.65 0.47)" fill="rgb(10,214,135)"/>
<ellipse cx="0.35" cy="0.47" rx="0.35" ry="0.2" transform="rotate(135 0.35 0.47)" fill="rgb(100,142,240)"/>
<g clip-path="url(#cbE)"><ellipse cx="0.65" cy="0.47" rx="0.35" ry="0.2" transform="rotate(45 0.65 0.47)" fill="rgb(15,135,215)"/></g>
<ellipse cx="0.5" cy="0.57" rx="0.33" ry="0.15" transform="rotate(45 0.5 0.57)" fill="rgb(225,190,155)"/>
<g clip-path="url(#cgE)"><ellipse cx="0.5" cy="0.57" rx="0.33" ry="0.15" transform="rotate(45 0.5 0.57)" fill="rgb(150,175,125)"/></g>
<g clip-path="url(#cbE)"><ellipse cx="0.5" cy="0.57" rx="0.33" ry="0.15" transform="rotate(45 0.5 0.57)" fill="rgb(173,157,146)"/></g>
<ellipse cx="0.5" cy="0.57" rx="0.35" ry="0.15" transform="rotate(135 0.5 0.57)" fill="rgb(250,150,140)"/>
<g clip-path="url(#cbE)"><ellipse cx="0.5" cy="0.57" rx="0.35" ry="0.15" transform="rotate(135 0.5 0.57)" fill="rgb(226,126,142)"/></g>
<g clip-path="url(#cgE)"><ellipse cx="0.5" cy="0.57" rx="0.35" ry="0.15" transform="rotate(135 0.5 0.57)" fill="rgb(210,150,115)"/></g>
<g clip-path="url(#cbE)"><g clip-path="url(#cgE)"><ellipse cx="0.5" cy="0.57" rx="0.35" ry="0.15" transform="rotate(135 0.5 0.57)" fill="rgb(215,125,140)"/></g></g>
<g clip-path="url(#ctE)"><ellipse cx="0.5" cy="0.57" rx="0.35" ry="0.15" transform="rotate(135 0.5 0.57)" fill="rgb(250,140,120)"/></g>
<ellipse cx="0.65" cy="0.47" rx="0.35" ry="0.2" transform="rotate(45 0.65 0.47)" fill="none" stroke="rgb(40,190,120)" stroke-width="0.0032"/>
<ellipse cx="0.35" cy="0.47" rx="0.35" ry="0.2" transform="rotate(135 0.35 0.47)" fill="none" stroke="rgb(110,125,235)" stroke-width="0.0032"/>
</g>
<text class="s" x="108.9" y="415.5" font-size="8.8" fill="#000" stroke="#000" stroke-width="0.1" text-anchor="middle">68</text>
<text class="s" x="138.7" y="431.3" font-size="8.8" fill="#000" stroke="#000" stroke-width="0.1" text-anchor="middle">26</text>
<text class="s" x="168.4" y="415.5" font-size="8.8" fill="#000" stroke="#000" stroke-width="0.1" text-anchor="middle">152</text>
<text class="s" x="100.9" y="435.3" font-size="8.8" fill="#000" stroke="#000" stroke-width="0.1" text-anchor="middle">0</text>
<text class="s" x="118.8" y="453.2" font-size="8.8" fill="#000" stroke="#000" stroke-width="0.1" text-anchor="middle">0</text>
<text class="s" x="138.7" y="475.0" font-size="8.8" fill="#000" stroke="#000" stroke-width="0.1" text-anchor="middle">0</text>
<text class="s" x="158.5" y="453.2" font-size="8.8" fill="#000" stroke="#000" stroke-width="0.1" text-anchor="middle">0</text>
<text class="s" x="176.4" y="435.3" font-size="8.8" fill="#000" stroke="#000" stroke-width="0.1" text-anchor="middle">1</text>
<text class="s" x="75.1" y="453.2" font-size="8.8" fill="#000" stroke="#000" stroke-width="0.1" text-anchor="middle">968</text>
<text class="s" x="102.9" y="484.9" font-size="8.8" fill="#000" stroke="#000" stroke-width="0.1" text-anchor="middle">11</text>
<text class="s" x="123.8" y="492.9" font-size="8.8" fill="#000" stroke="#000" stroke-width="0.1" text-anchor="middle">15</text>
<text class="s" x="153.5" y="492.9" font-size="8.8" fill="#000" stroke="#000" stroke-width="0.1" text-anchor="middle">15</text>
<text class="s" x="174.4" y="484.9" font-size="8.8" fill="#000" stroke="#000" stroke-width="0.1" text-anchor="middle">253</text>
<text class="s" x="202.2" y="453.2" font-size="8.8" fill="#000" stroke="#000" stroke-width="0.1" text-anchor="middle">1578</text>
<text class="s" x="138.7" y="512.7" font-size="8.8" fill="#000" stroke="#000" stroke-width="0.1" text-anchor="middle">7371</text>
</g>
<g id="vennF">
<defs><clipPath id="cbF"><ellipse cx="0.35" cy="0.47" rx="0.35" ry="0.2" transform="rotate(135 0.35 0.47)"/></clipPath><clipPath id="cgF"><ellipse cx="0.65" cy="0.47" rx="0.35" ry="0.2" transform="rotate(45 0.65 0.47)"/></clipPath><clipPath id="ctF"><ellipse cx="0.5" cy="0.57" rx="0.33" ry="0.15" transform="rotate(45 0.5 0.57)"/></clipPath></defs>
<g transform="translate(306.3 558.2) scale(194.7 -189.1)">
<ellipse cx="0.65" cy="0.47" rx="0.35" ry="0.2" transform="rotate(45 0.65 0.47)" fill="rgb(10,214,135)"/>
<ellipse cx="0.35" cy="0.47" rx="0.35" ry="0.2" transform="rotate(135 0.35 0.47)" fill="rgb(100,142,240)"/>
<g clip-path="url(#cbF)"><ellipse cx="0.65" cy="0.47" rx="0.35" ry="0.2" transform="rotate(45 0.65 0.47)" fill="rgb(15,135,215)"/></g>
<ellipse cx="0.5" cy="0.57" rx="0.33" ry="0.15" transform="rotate(45 0.5 0.57)" fill="rgb(225,190,155)"/>
<g clip-path="url(#cgF)"><ellipse cx="0.5" cy="0.57" rx="0.33" ry="0.15" transform="rotate(45 0.5 0.57)" fill="rgb(150,175,125)"/></g>
<g clip-path="url(#cbF)"><ellipse cx="0.5" cy="0.57" rx="0.33" ry="0.15" transform="rotate(45 0.5 0.57)" fill="rgb(173,157,146)"/></g>
<ellipse cx="0.5" cy="0.57" rx="0.35" ry="0.15" transform="rotate(135 0.5 0.57)" fill="rgb(250,150,140)"/>
<g clip-path="url(#cbF)"><ellipse cx="0.5" cy="0.57" rx="0.35" ry="0.15" transform="rotate(135 0.5 0.57)" fill="rgb(226,126,142)"/></g>
<g clip-path="url(#cgF)"><ellipse cx="0.5" cy="0.57" rx="0.35" ry="0.15" transform="rotate(135 0.5 0.57)" fill="rgb(210,150,115)"/></g>
<g clip-path="url(#cbF)"><g clip-path="url(#cgF)"><ellipse cx="0.5" cy="0.57" rx="0.35" ry="0.15" transform="rotate(135 0.5 0.57)" fill="rgb(215,125,140)"/></g></g>
<g clip-path="url(#ctF)"><ellipse cx="0.5" cy="0.57" rx="0.35" ry="0.15" transform="rotate(135 0.5 0.57)" fill="rgb(250,140,120)"/></g>
<ellipse cx="0.65" cy="0.47" rx="0.35" ry="0.2" transform="rotate(45 0.65 0.47)" fill="none" stroke="rgb(40,190,120)" stroke-width="0.0032"/>
<ellipse cx="0.35" cy="0.47" rx="0.35" ry="0.2" transform="rotate(135 0.35 0.47)" fill="none" stroke="rgb(110,125,235)" stroke-width="0.0032"/>
</g>
<text class="s" x="374.4" y="415.5" font-size="8.8" fill="#000" stroke="#000" stroke-width="0.1" text-anchor="middle">130</text>
<text class="s" x="403.6" y="430.6" font-size="8.8" fill="#000" stroke="#000" stroke-width="0.1" text-anchor="middle">30</text>
<text class="s" x="432.9" y="415.5" font-size="8.8" fill="#000" stroke="#000" stroke-width="0.1" text-anchor="middle">525</text>
<text class="s" x="366.7" y="434.4" font-size="8.8" fill="#000" stroke="#000" stroke-width="0.1" text-anchor="middle">0</text>
<text class="s" x="384.2" y="451.4" font-size="8.8" fill="#000" stroke="#000" stroke-width="0.1" text-anchor="middle">0</text>
<text class="s" x="403.6" y="472.2" font-size="8.8" fill="#000" stroke="#000" stroke-width="0.1" text-anchor="middle">2</text>
<text class="s" x="423.1" y="451.4" font-size="8.8" fill="#000" stroke="#000" stroke-width="0.1" text-anchor="middle">0</text>
<text class="s" x="440.6" y="434.4" font-size="8.8" fill="#000" stroke="#000" stroke-width="0.1" text-anchor="middle">0</text>
<text class="s" x="341.3" y="451.4" font-size="8.8" fill="#000" stroke="#000" stroke-width="0.1" text-anchor="middle">1787</text>
<text class="s" x="368.6" y="481.7" font-size="8.8" fill="#000" stroke="#000" stroke-width="0.1" text-anchor="middle">657</text>
<text class="s" x="389.0" y="489.2" font-size="8.8" fill="#000" stroke="#000" stroke-width="0.1" text-anchor="middle">158</text>
<text class="s" x="418.3" y="489.2" font-size="8.8" fill="#000" stroke="#000" stroke-width="0.1" text-anchor="middle">15</text>
<text class="s" x="438.7" y="481.7" font-size="8.8" fill="#000" stroke="#000" stroke-width="0.1" text-anchor="middle">21</text>
<text class="s" x="466.0" y="451.4" font-size="8.8" fill="#000" stroke="#000" stroke-width="0.1" text-anchor="middle">1202</text>
<text class="s" x="403.6" y="508.2" font-size="8.8" fill="#000" stroke="#000" stroke-width="0.1" text-anchor="middle">5227</text>
</g>
<text x="96.4" y="385.7" font-size="11.3" fill="#333" textLength="100.3" lengthAdjust="spacing">Up-regulated(Leaf)</text>
<text x="342.1" y="385.7" font-size="11.3" fill="#333" textLength="115" lengthAdjust="spacing">Down-regulated(Leaf)</text>
<text x="92.9" y="541.5" font-size="11.3" fill="#333" textLength="102.2" lengthAdjust="spacing">Up-regulated(Root)</text>
<text x="346.5" y="541.5" font-size="11.3" fill="#333" textLength="118.6" lengthAdjust="spacing">Down-regulated(Root)</text>
<rect x="228.8" y="290.8" width="7.2" height="6.8" fill="rgb(225,190,155)"/>
<text x="241" y="296.3" font-size="5.8" fill="#000" stroke="#000" stroke-width="0.12">G218WSL_vs_G230WSL</text>
<rect x="228.8" y="300.3" width="7.2" height="6.8" fill="rgb(250,150,140)"/>
<text x="241" y="305.8" font-size="5.8" fill="#000" stroke="#000" stroke-width="0.12">G218CKL_vs_G230CKL</text>
<rect x="228.8" y="309.8" width="7.2" height="6.8" fill="rgb(100,142,240)"/>
<text x="241" y="315.3" font-size="5.8" fill="#000" stroke="#000" stroke-width="0.12">G218CKL_vs_G218WSL</text>
<rect x="228.8" y="318.9" width="7.2" height="6.8" fill="rgb(10,214,135)"/>
<text x="241" y="324.4" font-size="5.8" fill="#000" stroke="#000" stroke-width="0.12">G230CKL_vs_G230WSL</text>
<rect x="231.9" y="444.5" width="7.2" height="6.8" fill="rgb(225,190,155)"/>
<text x="244.2" y="450.0" font-size="5.8" fill="#000" stroke="#000" stroke-width="0.12">G218WSR_vs_G230WSR</text>
<rect x="231.9" y="454.0" width="7.2" height="6.8" fill="rgb(250,150,140)"/>
<text x="244.2" y="459.5" font-size="5.8" fill="#000" stroke="#000" stroke-width="0.12">G218CKR_vs_G230CKR</text>
<rect x="231.9" y="463.1" width="7.2" height="6.8" fill="rgb(100,142,240)"/>
<text x="244.2" y="468.6" font-size="5.8" fill="#000" stroke="#000" stroke-width="0.12">G218CKR_vs_G218WSR</text>
<rect x="231.9" y="472.2" width="7.2" height="6.8" fill="rgb(10,214,135)"/>
<text x="244.2" y="477.7" font-size="5.8" fill="#000" stroke="#000" stroke-width="0.12">G230CKR_vs_G230WSR</text>
<text transform="translate(10.90 22.80) scale(0.970 0.970)" font-size="16" fill="#000" stroke="#000" stroke-width="0.5">A</text>
<text transform="translate(267.90 20.80) scale(0.870 0.960)" font-size="16" fill="#000" stroke="#000" stroke-width="0.5">B</text>
<text transform="translate(55.90 258.60) scale(0.880 0.970)" font-size="16" fill="#000" stroke="#000" stroke-width="0.5">C</text>
<text transform="translate(312.20 259.90) scale(0.980 0.960)" font-size="16" fill="#000" stroke="#000" stroke-width="0.5">D</text>
<text transform="translate(53.90 410.80) scale(0.760 0.970)" font-size="16" fill="#000" stroke="#000" stroke-width="0.5">E</text>
<text transform="translate(320.40 410.90) scale(0.800 0.970)" font-size="16" fill="#000" stroke="#000" stroke-width="0.5">F</text>
</svg>
</body></html>
